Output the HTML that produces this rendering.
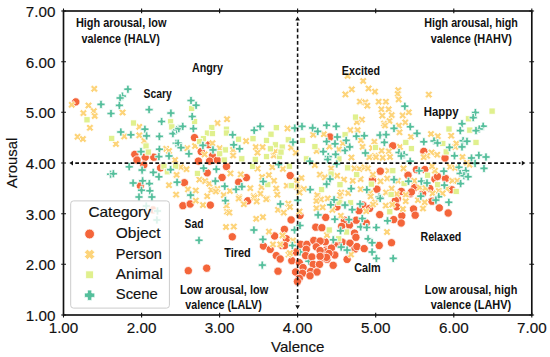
<!DOCTYPE html><html><head><meta charset="utf-8"><style>html,body{margin:0;padding:0;background:#fff;width:550px;height:357px;overflow:hidden}svg{display:block}text{font-family:"Liberation Sans",sans-serif}</style></head><body><svg width="550" height="357" viewBox="0 0 550 357"><rect width="550" height="357" fill="#fff"/><g stroke="#fff" stroke-width="0.8" stroke-linejoin="miter"><path d="M298.70,247.85H301.30V250.60H304.05V253.20H301.30V255.95H298.70V253.20H295.95V250.60H298.70Z" fill="#55bf9c"/><path d="M307.50,257.25H310.10V260.00H312.85V262.60H310.10V265.35H307.50V262.60H304.75V260.00H307.50Z" fill="#55bf9c"/><circle cx="75.8" cy="101.9" r="4.15" fill="#f4653a"/><circle cx="134.8" cy="154.4" r="4.15" fill="#f4653a"/><circle cx="145.2" cy="157.2" r="4.15" fill="#f4653a"/><circle cx="153.8" cy="157.2" r="4.15" fill="#f4653a"/><circle cx="137.0" cy="160.0" r="4.15" fill="#f4653a"/><circle cx="194.5" cy="137.6" r="4.15" fill="#f4653a"/><circle cx="209.0" cy="144.8" r="4.15" fill="#f4653a"/><circle cx="201.2" cy="151.6" r="4.15" fill="#f4653a"/><circle cx="212.4" cy="156.0" r="4.15" fill="#f4653a"/><circle cx="198.4" cy="161.1" r="4.15" fill="#f4653a"/><circle cx="209.6" cy="161.1" r="4.15" fill="#f4653a"/><circle cx="217.4" cy="160.0" r="4.15" fill="#f4653a"/><circle cx="330.0" cy="137.0" r="4.15" fill="#f4653a"/><circle cx="392.8" cy="145.8" r="4.15" fill="#f4653a"/><circle cx="423.8" cy="151.4" r="4.15" fill="#f4653a"/><circle cx="445.0" cy="158.0" r="4.15" fill="#f4653a"/><circle cx="143.8" cy="165.1" r="4.15" fill="#f4653a"/><circle cx="160.6" cy="167.9" r="4.15" fill="#f4653a"/><circle cx="140.4" cy="185.8" r="4.15" fill="#f4653a"/><circle cx="184.4" cy="182.7" r="4.15" fill="#f4653a"/><circle cx="207.2" cy="172.8" r="4.15" fill="#f4653a"/><circle cx="222.1" cy="177.5" r="4.15" fill="#f4653a"/><circle cx="226.5" cy="166.5" r="4.15" fill="#f4653a"/><circle cx="238.7" cy="182.2" r="4.15" fill="#f4653a"/><circle cx="246.4" cy="177.6" r="4.15" fill="#f4653a"/><circle cx="290.2" cy="175.6" r="4.15" fill="#f4653a"/><circle cx="372.4" cy="180.2" r="4.15" fill="#f4653a"/><circle cx="380.3" cy="171.2" r="4.15" fill="#f4653a"/><circle cx="376.9" cy="189.2" r="4.15" fill="#f4653a"/><circle cx="408.0" cy="175.2" r="4.15" fill="#f4653a"/><circle cx="401.3" cy="191.4" r="4.15" fill="#f4653a"/><circle cx="410.2" cy="193.7" r="4.15" fill="#f4653a"/><circle cx="397.3" cy="198.7" r="4.15" fill="#f4653a"/><circle cx="416.4" cy="169.6" r="4.15" fill="#f4653a"/><circle cx="424.8" cy="169.6" r="4.15" fill="#f4653a"/><circle cx="434.9" cy="179.1" r="4.15" fill="#f4653a"/><circle cx="437.5" cy="176.5" r="4.15" fill="#f4653a"/><circle cx="445.5" cy="178.5" r="4.15" fill="#f4653a"/><circle cx="429.8" cy="188.6" r="4.15" fill="#f4653a"/><circle cx="414.7" cy="187.5" r="4.15" fill="#f4653a"/><circle cx="411.4" cy="192.0" r="4.15" fill="#f4653a"/><circle cx="451.7" cy="189.7" r="4.15" fill="#f4653a"/><circle cx="422.6" cy="193.6" r="4.15" fill="#f4653a"/><circle cx="153.0" cy="209.9" r="4.15" fill="#f4653a"/><circle cx="182.9" cy="205.7" r="4.15" fill="#f4653a"/><circle cx="190.2" cy="204.0" r="4.15" fill="#f4653a"/><circle cx="210.3" cy="205.1" r="4.15" fill="#f4653a"/><circle cx="247.8" cy="200.8" r="4.15" fill="#f4653a"/><circle cx="300.0" cy="215.4" r="4.15" fill="#f4653a"/><circle cx="291.1" cy="219.9" r="4.15" fill="#f4653a"/><circle cx="284.4" cy="229.4" r="4.15" fill="#f4653a"/><circle cx="337.0" cy="206.9" r="4.15" fill="#f4653a"/><circle cx="325.7" cy="217.4" r="4.15" fill="#f4653a"/><circle cx="315.8" cy="227.2" r="4.15" fill="#f4653a"/><circle cx="321.9" cy="227.7" r="4.15" fill="#f4653a"/><circle cx="362.9" cy="205.1" r="4.15" fill="#f4653a"/><circle cx="369.6" cy="208.4" r="4.15" fill="#f4653a"/><circle cx="379.7" cy="214.6" r="4.15" fill="#f4653a"/><circle cx="395.4" cy="200.6" r="4.15" fill="#f4653a"/><circle cx="359.0" cy="210.7" r="4.15" fill="#f4653a"/><circle cx="344.4" cy="220.2" r="4.15" fill="#f4653a"/><circle cx="356.2" cy="220.2" r="4.15" fill="#f4653a"/><circle cx="366.2" cy="223.0" r="4.15" fill="#f4653a"/><circle cx="393.7" cy="219.6" r="4.15" fill="#f4653a"/><circle cx="349.4" cy="225.2" r="4.15" fill="#f4653a"/><circle cx="341.6" cy="226.4" r="4.15" fill="#f4653a"/><circle cx="354.5" cy="233.1" r="4.15" fill="#f4653a"/><circle cx="432.0" cy="201.2" r="4.15" fill="#f4653a"/><circle cx="396.7" cy="206.8" r="4.15" fill="#f4653a"/><circle cx="413.5" cy="209.0" r="4.15" fill="#f4653a"/><circle cx="439.3" cy="207.9" r="4.15" fill="#f4653a"/><circle cx="415.2" cy="215.2" r="4.15" fill="#f4653a"/><circle cx="401.8" cy="215.8" r="4.15" fill="#f4653a"/><circle cx="401.2" cy="223.0" r="4.15" fill="#f4653a"/><circle cx="448.2" cy="213.0" r="4.15" fill="#f4653a"/><circle cx="232.3" cy="236.8" r="4.15" fill="#f4653a"/><circle cx="206.7" cy="268.2" r="4.15" fill="#f4653a"/><circle cx="188.3" cy="270.7" r="4.15" fill="#f4653a"/><circle cx="274.6" cy="236.0" r="4.15" fill="#f4653a"/><circle cx="286.4" cy="238.8" r="4.15" fill="#f4653a"/><circle cx="263.4" cy="246.1" r="4.15" fill="#f4653a"/><circle cx="270.2" cy="249.4" r="4.15" fill="#f4653a"/><circle cx="281.9" cy="245.5" r="4.15" fill="#f4653a"/><circle cx="284.7" cy="245.5" r="4.15" fill="#f4653a"/><circle cx="276.3" cy="255.6" r="4.15" fill="#f4653a"/><circle cx="280.2" cy="259.0" r="4.15" fill="#f4653a"/><circle cx="325.3" cy="241.8" r="4.15" fill="#f4653a"/><circle cx="326.1" cy="250.2" r="4.15" fill="#f4653a"/><circle cx="327.0" cy="251.7" r="4.15" fill="#f4653a"/><circle cx="323.2" cy="258.4" r="4.15" fill="#f4653a"/><circle cx="327.0" cy="259.2" r="4.15" fill="#f4653a"/><circle cx="355.9" cy="237.3" r="4.15" fill="#f4653a"/><circle cx="335.3" cy="243.7" r="4.15" fill="#f4653a"/><circle cx="342.2" cy="242.2" r="4.15" fill="#f4653a"/><circle cx="350.0" cy="243.2" r="4.15" fill="#f4653a"/><circle cx="331.4" cy="248.1" r="4.15" fill="#f4653a"/><circle cx="354.9" cy="249.1" r="4.15" fill="#f4653a"/><circle cx="356.9" cy="246.6" r="4.15" fill="#f4653a"/><circle cx="364.2" cy="248.6" r="4.15" fill="#f4653a"/><circle cx="334.8" cy="255.0" r="4.15" fill="#f4653a"/><circle cx="328.9" cy="253.5" r="4.15" fill="#f4653a"/><circle cx="347.1" cy="259.4" r="4.15" fill="#f4653a"/><circle cx="326.5" cy="257.4" r="4.15" fill="#f4653a"/><circle cx="333.2" cy="265.3" r="4.15" fill="#f4653a"/><circle cx="278.0" cy="271.2" r="4.15" fill="#f4653a"/><circle cx="391.5" cy="242.7" r="4.15" fill="#f4653a"/><circle cx="379.2" cy="245.5" r="4.15" fill="#f4653a"/><circle cx="300.6" cy="244.3" r="4.15" fill="#f4653a"/><circle cx="306.9" cy="244.3" r="4.15" fill="#f4653a"/><circle cx="313.8" cy="240.5" r="4.15" fill="#f4653a"/><circle cx="320.1" cy="241.1" r="4.15" fill="#f4653a"/><circle cx="306.3" cy="249.3" r="4.15" fill="#f4653a"/><circle cx="316.3" cy="246.8" r="4.15" fill="#f4653a"/><circle cx="320.1" cy="250.6" r="4.15" fill="#f4653a"/><circle cx="305.6" cy="255.6" r="4.15" fill="#f4653a"/><circle cx="311.9" cy="256.9" r="4.15" fill="#f4653a"/><circle cx="320.1" cy="256.3" r="4.15" fill="#f4653a"/><circle cx="291.8" cy="260.7" r="4.15" fill="#f4653a"/><circle cx="299.3" cy="262.6" r="4.15" fill="#f4653a"/><circle cx="313.2" cy="264.4" r="4.15" fill="#f4653a"/><circle cx="319.5" cy="264.4" r="4.15" fill="#f4653a"/><circle cx="303.1" cy="267.6" r="4.15" fill="#f4653a"/><circle cx="295.6" cy="272.0" r="4.15" fill="#f4653a"/><circle cx="302.5" cy="273.3" r="4.15" fill="#f4653a"/><circle cx="310.7" cy="271.4" r="4.15" fill="#f4653a"/><circle cx="317.0" cy="272.0" r="4.15" fill="#f4653a"/><circle cx="310.0" cy="275.8" r="4.15" fill="#f4653a"/><circle cx="299.3" cy="278.3" r="4.15" fill="#f4653a"/><circle cx="297.4" cy="281.5" r="4.15" fill="#f4653a"/><circle cx="295.5" cy="252.0" r="4.15" fill="#f4653a"/><path d="M96.15,85.00L98.10,86.95L96.25,88.80L98.10,90.65L96.15,92.60L94.30,90.75L92.45,92.60L90.50,90.65L92.35,88.80L90.50,86.95L92.45,85.00L94.30,86.85Z" fill="#fdd47a"/><path d="M73.55,101.00L75.50,102.95L73.65,104.80L75.50,106.65L73.55,108.60L71.70,106.75L69.85,108.60L67.90,106.65L69.75,104.80L67.90,102.95L69.85,101.00L71.70,102.85Z" fill="#fdd47a"/><path d="M90.35,101.70L92.30,103.65L90.45,105.50L92.30,107.35L90.35,109.30L88.50,107.45L86.65,109.30L84.70,107.35L86.55,105.50L84.70,103.65L86.65,101.70L88.50,103.55Z" fill="#fdd47a"/><path d="M85.25,109.30L87.20,111.25L85.35,113.10L87.20,114.95L85.25,116.90L83.40,115.05L81.55,116.90L79.60,114.95L81.45,113.10L79.60,111.25L81.55,109.30L83.40,111.15Z" fill="#fdd47a"/><path d="M95.65,107.30L97.60,109.25L95.75,111.10L97.60,112.95L95.65,114.90L93.80,113.05L91.95,114.90L90.00,112.95L91.85,111.10L90.00,109.25L91.95,107.30L93.80,109.15Z" fill="#fdd47a"/><path d="M96.55,112.20L98.50,114.15L96.65,116.00L98.50,117.85L96.55,119.80L94.70,117.95L92.85,119.80L90.90,117.85L92.75,116.00L90.90,114.15L92.85,112.20L94.70,114.05Z" fill="#fdd47a"/><path d="M124.45,108.70L126.40,110.65L124.55,112.50L126.40,114.35L124.45,116.30L122.60,114.45L120.75,116.30L118.80,114.35L120.65,112.50L118.80,110.65L120.75,108.70L122.60,110.55Z" fill="#fdd47a"/><path d="M219.35,119.30L221.30,121.25L219.45,123.10L221.30,124.95L219.35,126.90L217.50,125.05L215.65,126.90L213.70,124.95L215.55,123.10L213.70,121.25L215.65,119.30L217.50,121.15Z" fill="#fdd47a"/><path d="M228.85,115.40L230.80,117.35L228.95,119.20L230.80,121.05L228.85,123.00L227.00,121.15L225.15,123.00L223.20,121.05L225.05,119.20L223.20,117.35L225.15,115.40L227.00,117.25Z" fill="#fdd47a"/><path d="M349.45,72.10L351.40,74.05L349.55,75.90L351.40,77.75L349.45,79.70L347.60,77.85L345.75,79.70L343.80,77.75L345.65,75.90L343.80,74.05L345.75,72.10L347.60,73.95Z" fill="#fdd47a"/><path d="M365.05,77.20L367.00,79.15L365.15,81.00L367.00,82.85L365.05,84.80L363.20,82.95L361.35,84.80L359.40,82.85L361.25,81.00L359.40,79.15L361.35,77.20L363.20,79.05Z" fill="#fdd47a"/><path d="M353.65,85.60L355.60,87.55L353.75,89.40L355.60,91.25L353.65,93.20L351.80,91.35L349.95,93.20L348.00,91.25L349.85,89.40L348.00,87.55L349.95,85.60L351.80,87.45Z" fill="#fdd47a"/><path d="M347.25,90.60L349.20,92.55L347.35,94.40L349.20,96.25L347.25,98.20L345.40,96.35L343.55,98.20L341.60,96.25L343.45,94.40L341.60,92.55L343.55,90.60L345.40,92.45Z" fill="#fdd47a"/><path d="M370.45,84.70L372.40,86.65L370.55,88.50L372.40,90.35L370.45,92.30L368.60,90.45L366.75,92.30L364.80,90.35L366.65,88.50L364.80,86.65L366.75,84.70L368.60,86.55Z" fill="#fdd47a"/><path d="M376.85,87.80L378.80,89.75L376.95,91.60L378.80,93.45L376.85,95.40L375.00,93.55L373.15,95.40L371.20,93.45L373.05,91.60L371.20,89.75L373.15,87.80L375.00,89.65Z" fill="#fdd47a"/><path d="M361.75,97.80L363.70,99.75L361.85,101.60L363.70,103.45L361.75,105.40L359.90,103.55L358.05,105.40L356.10,103.45L357.95,101.60L356.10,99.75L358.05,97.80L359.90,99.65Z" fill="#fdd47a"/><path d="M367.15,98.50L369.10,100.45L367.25,102.30L369.10,104.15L367.15,106.10L365.30,104.25L363.45,106.10L361.50,104.15L363.35,102.30L361.50,100.45L363.45,98.50L365.30,100.35Z" fill="#fdd47a"/><path d="M369.15,101.90L371.10,103.85L369.25,105.70L371.10,107.55L369.15,109.50L367.30,107.65L365.45,109.50L363.50,107.55L365.35,105.70L363.50,103.85L365.45,101.90L367.30,103.75Z" fill="#fdd47a"/><path d="M363.75,115.80L365.70,117.75L363.85,119.60L365.70,121.45L363.75,123.40L361.90,121.55L360.05,123.40L358.10,121.45L359.95,119.60L358.10,117.75L360.05,115.80L361.90,117.65Z" fill="#fdd47a"/><path d="M358.65,118.30L360.60,120.25L358.75,122.10L360.60,123.95L358.65,125.90L356.80,124.05L354.95,125.90L353.00,123.95L354.85,122.10L353.00,120.25L354.95,118.30L356.80,120.15Z" fill="#fdd47a"/><path d="M380.55,97.90L382.50,99.85L380.65,101.70L382.50,103.55L380.55,105.50L378.70,103.65L376.85,105.50L374.90,103.55L376.75,101.70L374.90,99.85L376.85,97.90L378.70,99.75Z" fill="#fdd47a"/><path d="M387.75,97.90L389.70,99.85L387.85,101.70L389.70,103.55L387.75,105.50L385.90,103.65L384.05,105.50L382.10,103.55L383.95,101.70L382.10,99.85L384.05,97.90L385.90,99.75Z" fill="#fdd47a"/><path d="M383.25,105.50L385.20,107.45L383.35,109.30L385.20,111.15L383.25,113.10L381.40,111.25L379.55,113.10L377.60,111.15L379.45,109.30L377.60,107.45L379.55,105.50L381.40,107.35Z" fill="#fdd47a"/><path d="M390.45,105.50L392.40,107.45L390.55,109.30L392.40,111.15L390.45,113.10L388.60,111.25L386.75,113.10L384.80,111.15L386.65,109.30L384.80,107.45L386.75,105.50L388.60,107.35Z" fill="#fdd47a"/><path d="M384.15,111.80L386.10,113.75L384.25,115.60L386.10,117.45L384.15,119.40L382.30,117.55L380.45,119.40L378.50,117.45L380.35,115.60L378.50,113.75L380.45,111.80L382.30,113.65Z" fill="#fdd47a"/><path d="M393.55,111.30L395.50,113.25L393.65,115.10L395.50,116.95L393.55,118.90L391.70,117.05L389.85,118.90L387.90,116.95L389.75,115.10L387.90,113.25L389.85,111.30L391.70,113.15Z" fill="#fdd47a"/><path d="M391.35,117.20L393.30,119.15L391.45,121.00L393.30,122.85L391.35,124.80L389.50,122.95L387.65,124.80L385.70,122.85L387.55,121.00L385.70,119.15L387.65,117.20L389.50,119.05Z" fill="#fdd47a"/><path d="M385.95,119.80L387.90,121.75L386.05,123.60L387.90,125.45L385.95,127.40L384.10,125.55L382.25,127.40L380.30,125.45L382.15,123.60L380.30,121.75L382.25,119.80L384.10,121.65Z" fill="#fdd47a"/><path d="M400.15,86.40L402.10,88.35L400.25,90.20L402.10,92.05L400.15,94.00L398.30,92.15L396.45,94.00L394.50,92.05L396.35,90.20L394.50,88.35L396.45,86.40L398.30,88.25Z" fill="#fdd47a"/><path d="M399.55,90.20L401.50,92.15L399.65,94.00L401.50,95.85L399.55,97.80L397.70,95.95L395.85,97.80L393.90,95.85L395.75,94.00L393.90,92.15L395.85,90.20L397.70,92.05Z" fill="#fdd47a"/><path d="M400.55,95.60L402.50,97.55L400.65,99.40L402.50,101.25L400.55,103.20L398.70,101.35L396.85,103.20L394.90,101.25L396.75,99.40L394.90,97.55L396.85,95.60L398.70,97.45Z" fill="#fdd47a"/><path d="M404.55,111.60L406.50,113.55L404.65,115.40L406.50,117.25L404.55,119.20L402.70,117.35L400.85,119.20L398.90,117.25L400.75,115.40L398.90,113.55L400.85,111.60L402.70,113.45Z" fill="#fdd47a"/><path d="M410.65,108.50L412.60,110.45L410.75,112.30L412.60,114.15L410.65,116.10L408.80,114.25L406.95,116.10L405.00,114.15L406.85,112.30L405.00,110.45L406.95,108.50L408.80,110.35Z" fill="#fdd47a"/><path d="M407.05,118.60L409.00,120.55L407.15,122.40L409.00,124.25L407.05,126.20L405.20,124.35L403.35,126.20L401.40,124.25L403.25,122.40L401.40,120.55L403.35,118.60L405.20,120.45Z" fill="#fdd47a"/><path d="M430.65,90.80L432.60,92.75L430.75,94.60L432.60,96.45L430.65,98.40L428.80,96.55L426.95,98.40L425.00,96.45L426.85,94.60L425.00,92.75L426.95,90.80L428.80,92.65Z" fill="#fdd47a"/><path d="M91.75,124.00L93.70,125.95L91.85,127.80L93.70,129.65L91.75,131.60L89.90,129.75L88.05,131.60L86.10,129.65L87.95,127.80L86.10,125.95L88.05,124.00L89.90,125.85Z" fill="#fdd47a"/><path d="M79.45,133.00L81.40,134.95L79.55,136.80L81.40,138.65L79.45,140.60L77.60,138.75L75.75,140.60L73.80,138.65L75.65,136.80L73.80,134.95L75.75,133.00L77.60,134.85Z" fill="#fdd47a"/><path d="M84.75,135.20L86.70,137.15L84.85,139.00L86.70,140.85L84.75,142.80L82.90,140.95L81.05,142.80L79.10,140.85L80.95,139.00L79.10,137.15L81.05,135.20L82.90,137.05Z" fill="#fdd47a"/><path d="M117.75,140.20L119.70,142.15L117.85,144.00L119.70,145.85L117.75,147.80L115.90,145.95L114.05,147.80L112.10,145.85L113.95,144.00L112.10,142.15L114.05,140.20L115.90,142.05Z" fill="#fdd47a"/><path d="M141.15,123.10L143.10,125.05L141.25,126.90L143.10,128.75L141.15,130.70L139.30,128.85L137.45,130.70L135.50,128.75L137.35,126.90L135.50,125.05L137.45,123.10L139.30,124.95Z" fill="#fdd47a"/><path d="M126.05,132.60L128.00,134.55L126.15,136.40L128.00,138.25L126.05,140.20L124.20,138.35L122.35,140.20L120.40,138.25L122.25,136.40L120.40,134.55L122.35,132.60L124.20,134.45Z" fill="#fdd47a"/><path d="M141.15,131.50L143.10,133.45L141.25,135.30L143.10,137.15L141.15,139.10L139.30,137.25L137.45,139.10L135.50,137.15L137.35,135.30L135.50,133.45L137.45,131.50L139.30,133.35Z" fill="#fdd47a"/><path d="M146.15,137.10L148.10,139.05L146.25,140.90L148.10,142.75L146.15,144.70L144.30,142.85L142.45,144.70L140.50,142.75L142.35,140.90L140.50,139.05L142.45,137.10L144.30,138.95Z" fill="#fdd47a"/><path d="M168.05,145.00L170.00,146.95L168.15,148.80L170.00,150.65L168.05,152.60L166.20,150.75L164.35,152.60L162.40,150.65L164.25,148.80L162.40,146.95L164.35,145.00L166.20,146.85Z" fill="#fdd47a"/><path d="M170.85,147.20L172.80,149.15L170.95,151.00L172.80,152.85L170.85,154.80L169.00,152.95L167.15,154.80L165.20,152.85L167.05,151.00L165.20,149.15L167.15,147.20L169.00,149.05Z" fill="#fdd47a"/><path d="M176.95,156.20L178.90,158.15L177.05,160.00L178.90,161.85L176.95,163.80L175.10,161.95L173.25,163.80L171.30,161.85L173.15,160.00L171.30,158.15L173.25,156.20L175.10,158.05Z" fill="#fdd47a"/><path d="M189.05,144.40L191.00,146.35L189.15,148.20L191.00,150.05L189.05,152.00L187.20,150.15L185.35,152.00L183.40,150.05L185.25,148.20L183.40,146.35L185.35,144.40L187.20,146.25Z" fill="#fdd47a"/><path d="M196.85,142.20L198.80,144.15L196.95,146.00L198.80,147.85L196.85,149.80L195.00,147.95L193.15,149.80L191.20,147.85L193.05,146.00L191.20,144.15L193.15,142.20L195.00,144.05Z" fill="#fdd47a"/><path d="M214.25,139.40L216.20,141.35L214.35,143.20L216.20,145.05L214.25,147.00L212.40,145.15L210.55,147.00L208.60,145.05L210.45,143.20L208.60,141.35L210.55,139.40L212.40,141.25Z" fill="#fdd47a"/><path d="M221.55,144.40L223.50,146.35L221.65,148.20L223.50,150.05L221.55,152.00L219.70,150.15L217.85,152.00L215.90,150.05L217.75,148.20L215.90,146.35L217.85,144.40L219.70,146.25Z" fill="#fdd47a"/><path d="M234.95,146.10L236.90,148.05L235.05,149.90L236.90,151.75L234.95,153.70L233.10,151.85L231.25,153.70L229.30,151.75L231.15,149.90L229.30,148.05L231.25,146.10L233.10,147.95Z" fill="#fdd47a"/><path d="M206.45,150.60L208.40,152.55L206.55,154.40L208.40,156.25L206.45,158.20L204.60,156.35L202.75,158.20L200.80,156.25L202.65,154.40L200.80,152.55L202.75,150.60L204.60,152.45Z" fill="#fdd47a"/><path d="M234.95,151.70L236.90,153.65L235.05,155.50L236.90,157.35L234.95,159.30L233.10,157.45L231.25,159.30L229.30,157.35L231.15,155.50L229.30,153.65L231.25,151.70L233.10,153.55Z" fill="#fdd47a"/><path d="M289.35,124.60L291.30,126.55L289.45,128.40L291.30,130.25L289.35,132.20L287.50,130.35L285.65,132.20L283.70,130.25L285.55,128.40L283.70,126.55L285.65,124.60L287.50,126.45Z" fill="#fdd47a"/><path d="M247.95,137.30L249.90,139.25L248.05,141.10L249.90,142.95L247.95,144.90L246.10,143.05L244.25,144.90L242.30,142.95L244.15,141.10L242.30,139.25L244.25,137.30L246.10,139.15Z" fill="#fdd47a"/><path d="M257.65,143.30L259.60,145.25L257.75,147.10L259.60,148.95L257.65,150.90L255.80,149.05L253.95,150.90L252.00,148.95L253.85,147.10L252.00,145.25L253.95,143.30L255.80,145.15Z" fill="#fdd47a"/><path d="M264.45,143.30L266.40,145.25L264.55,147.10L266.40,148.95L264.45,150.90L262.60,149.05L260.75,150.90L258.80,148.95L260.65,147.10L258.80,145.25L260.75,143.30L262.60,145.15Z" fill="#fdd47a"/><path d="M259.35,148.90L261.30,150.85L259.45,152.70L261.30,154.55L259.35,156.50L257.50,154.65L255.65,156.50L253.70,154.55L255.55,152.70L253.70,150.85L255.65,148.90L257.50,150.75Z" fill="#fdd47a"/><path d="M275.65,151.70L277.60,153.65L275.75,155.50L277.60,157.35L275.65,159.30L273.80,157.45L271.95,159.30L270.00,157.35L271.85,155.50L270.00,153.65L271.95,151.70L273.80,153.55Z" fill="#fdd47a"/><path d="M277.25,147.70L279.20,149.65L277.35,151.50L279.20,153.35L277.25,155.30L275.40,153.45L273.55,155.30L271.60,153.35L273.45,151.50L271.60,149.65L273.55,147.70L275.40,149.55Z" fill="#fdd47a"/><path d="M292.95,143.80L294.90,145.75L293.05,147.60L294.90,149.45L292.95,151.40L291.10,149.55L289.25,151.40L287.30,149.45L289.15,147.60L287.30,145.75L289.25,143.80L291.10,145.65Z" fill="#fdd47a"/><path d="M315.05,131.00L317.00,132.95L315.15,134.80L317.00,136.65L315.05,138.60L313.20,136.75L311.35,138.60L309.40,136.65L311.25,134.80L309.40,132.95L311.35,131.00L313.20,132.85Z" fill="#fdd47a"/><path d="M325.65,130.40L327.60,132.35L325.75,134.20L327.60,136.05L325.65,138.00L323.80,136.15L321.95,138.00L320.00,136.05L321.85,134.20L320.00,132.35L321.95,130.40L323.80,132.25Z" fill="#fdd47a"/><path d="M344.75,139.40L346.70,141.35L344.85,143.20L346.70,145.05L344.75,147.00L342.90,145.15L341.05,147.00L339.10,145.05L340.95,143.20L339.10,141.35L341.05,139.40L342.90,141.25Z" fill="#fdd47a"/><path d="M297.65,148.90L299.60,150.85L297.75,152.70L299.60,154.55L297.65,156.50L295.80,154.65L293.95,156.50L292.00,154.55L293.85,152.70L292.00,150.85L293.95,148.90L295.80,150.75Z" fill="#fdd47a"/><path d="M318.45,147.20L320.40,149.15L318.55,151.00L320.40,152.85L318.45,154.80L316.60,152.95L314.75,154.80L312.80,152.85L314.65,151.00L312.80,149.15L314.75,147.20L316.60,149.05Z" fill="#fdd47a"/><path d="M331.25,142.80L333.20,144.75L331.35,146.60L333.20,148.45L331.25,150.40L329.40,148.55L327.55,150.40L325.60,148.45L327.45,146.60L325.60,144.75L327.55,142.80L329.40,144.65Z" fill="#fdd47a"/><path d="M340.85,145.60L342.80,147.55L340.95,149.40L342.80,151.25L340.85,153.20L339.00,151.35L337.15,153.20L335.20,151.25L337.05,149.40L335.20,147.55L337.15,145.60L339.00,147.45Z" fill="#fdd47a"/><path d="M352.15,126.30L354.10,128.25L352.25,130.10L354.10,131.95L352.15,133.90L350.30,132.05L348.45,133.90L346.50,131.95L348.35,130.10L346.50,128.25L348.45,126.30L350.30,128.15Z" fill="#fdd47a"/><path d="M359.45,126.30L361.40,128.25L359.55,130.10L361.40,131.95L359.45,133.90L357.60,132.05L355.75,133.90L353.80,131.95L355.65,130.10L353.80,128.25L355.75,126.30L357.60,128.15Z" fill="#fdd47a"/><path d="M362.75,136.40L364.70,138.35L362.85,140.20L364.70,142.05L362.75,144.00L360.90,142.15L359.05,144.00L357.10,142.05L358.95,140.20L357.10,138.35L359.05,136.40L360.90,138.25Z" fill="#fdd47a"/><path d="M364.45,143.10L366.40,145.05L364.55,146.90L366.40,148.75L364.45,150.70L362.60,148.85L360.75,150.70L358.80,148.75L360.65,146.90L358.80,145.05L360.75,143.10L362.60,144.95Z" fill="#fdd47a"/><path d="M353.25,153.70L355.20,155.65L353.35,157.50L355.20,159.35L353.25,161.30L351.40,159.45L349.55,161.30L347.60,159.35L349.45,157.50L347.60,155.65L349.55,153.70L351.40,155.55Z" fill="#fdd47a"/><path d="M373.95,144.20L375.90,146.15L374.05,148.00L375.90,149.85L373.95,151.80L372.10,149.95L370.25,151.80L368.30,149.85L370.15,148.00L368.30,146.15L370.25,144.20L372.10,146.05Z" fill="#fdd47a"/><path d="M376.25,138.00L378.20,139.95L376.35,141.80L378.20,143.65L376.25,145.60L374.40,143.75L372.55,145.60L370.60,143.65L372.45,141.80L370.60,139.95L372.55,138.00L374.40,139.85Z" fill="#fdd47a"/><path d="M376.75,152.00L378.70,153.95L376.85,155.80L378.70,157.65L376.75,159.60L374.90,157.75L373.05,159.60L371.10,157.65L372.95,155.80L371.10,153.95L373.05,152.00L374.90,153.85Z" fill="#fdd47a"/><path d="M383.45,147.00L385.40,148.95L383.55,150.80L385.40,152.65L383.45,154.60L381.60,152.75L379.75,154.60L377.80,152.65L379.65,150.80L377.80,148.95L379.75,147.00L381.60,148.85Z" fill="#fdd47a"/><path d="M390.75,147.60L392.70,149.55L390.85,151.40L392.70,153.25L390.75,155.20L388.90,153.35L387.05,155.20L385.10,153.25L386.95,151.40L385.10,149.55L387.05,147.60L388.90,149.45Z" fill="#fdd47a"/><path d="M386.85,121.70L388.80,123.65L386.95,125.50L388.80,127.35L386.85,129.30L385.00,127.45L383.15,129.30L381.20,127.35L383.05,125.50L381.20,123.65L383.15,121.70L385.00,123.55Z" fill="#fdd47a"/><path d="M400.85,121.80L402.80,123.75L400.95,125.60L402.80,127.45L400.85,129.40L399.00,127.55L397.15,129.40L395.20,127.45L397.05,125.60L395.20,123.75L397.15,121.80L399.00,123.65Z" fill="#fdd47a"/><path d="M401.35,128.50L403.30,130.45L401.45,132.30L403.30,134.15L401.35,136.10L399.50,134.25L397.65,136.10L395.70,134.15L397.55,132.30L395.70,130.45L397.65,128.50L399.50,130.35Z" fill="#fdd47a"/><path d="M401.85,143.10L403.80,145.05L401.95,146.90L403.80,148.75L401.85,150.70L400.00,148.85L398.15,150.70L396.20,148.75L398.05,146.90L396.20,145.05L398.15,143.10L400.00,144.95Z" fill="#fdd47a"/><path d="M391.85,153.20L393.80,155.15L391.95,157.00L393.80,158.85L391.85,160.80L390.00,158.95L388.15,160.80L386.20,158.85L388.05,157.00L386.20,155.15L388.15,153.20L390.00,155.05Z" fill="#fdd47a"/><path d="M412.75,133.00L414.70,134.95L412.85,136.80L414.70,138.65L412.75,140.60L410.90,138.75L409.05,140.60L407.10,138.65L408.95,136.80L407.10,134.95L409.05,133.00L410.90,134.85Z" fill="#fdd47a"/><path d="M432.85,130.20L434.80,132.15L432.95,134.00L434.80,135.85L432.85,137.80L431.00,135.95L429.15,137.80L427.20,135.85L429.05,134.00L427.20,132.15L429.15,130.20L431.00,132.05Z" fill="#fdd47a"/><path d="M439.65,132.40L441.60,134.35L439.75,136.20L441.60,138.05L439.65,140.00L437.80,138.15L435.95,140.00L434.00,138.05L435.85,136.20L434.00,134.35L435.95,132.40L437.80,134.25Z" fill="#fdd47a"/><path d="M453.05,131.90L455.00,133.85L453.15,135.70L455.00,137.55L453.05,139.50L451.20,137.65L449.35,139.50L447.40,137.55L449.25,135.70L447.40,133.85L449.35,131.90L451.20,133.75Z" fill="#fdd47a"/><path d="M433.45,148.70L435.40,150.65L433.55,152.50L435.40,154.35L433.45,156.30L431.60,154.45L429.75,156.30L427.80,154.35L429.65,152.50L427.80,150.65L429.75,148.70L431.60,150.55Z" fill="#fdd47a"/><path d="M439.05,150.90L441.00,152.85L439.15,154.70L441.00,156.55L439.05,158.50L437.20,156.65L435.35,158.50L433.40,156.55L435.25,154.70L433.40,152.85L435.35,150.90L437.20,152.75Z" fill="#fdd47a"/><path d="M428.95,152.00L430.90,153.95L429.05,155.80L430.90,157.65L428.95,159.60L427.10,157.75L425.25,159.60L423.30,157.65L425.15,155.80L423.30,153.95L425.25,152.00L427.10,153.85Z" fill="#fdd47a"/><path d="M457.05,143.10L459.00,145.05L457.15,146.90L459.00,148.75L457.05,150.70L455.20,148.85L453.35,150.70L451.40,148.75L453.25,146.90L451.40,145.05L453.35,143.10L455.20,144.95Z" fill="#fdd47a"/><path d="M458.25,139.70L460.20,141.65L458.35,143.50L460.20,145.35L458.25,147.30L456.40,145.45L454.55,147.30L452.60,145.35L454.45,143.50L452.60,141.65L454.55,139.70L456.40,141.55Z" fill="#fdd47a"/><path d="M464.35,153.20L466.30,155.15L464.45,157.00L466.30,158.85L464.35,160.80L462.50,158.95L460.65,160.80L458.70,158.85L460.55,157.00L458.70,155.15L460.65,153.20L462.50,155.05Z" fill="#fdd47a"/><path d="M178.05,171.40L180.00,173.35L178.15,175.20L180.00,177.05L178.05,179.00L176.20,177.15L174.35,179.00L172.40,177.05L174.25,175.20L172.40,173.35L174.35,171.40L176.20,173.25Z" fill="#fdd47a"/><path d="M170.85,181.40L172.80,183.35L170.95,185.20L172.80,187.05L170.85,189.00L169.00,187.15L167.15,189.00L165.20,187.05L167.05,185.20L165.20,183.35L167.15,181.40L169.00,183.25Z" fill="#fdd47a"/><path d="M182.65,163.30L184.60,165.25L182.75,167.10L184.60,168.95L182.65,170.90L180.80,169.05L178.95,170.90L177.00,168.95L178.85,167.10L177.00,165.25L178.95,163.30L180.80,165.15Z" fill="#fdd47a"/><path d="M188.35,165.40L190.30,167.35L188.45,169.20L190.30,171.05L188.35,173.00L186.50,171.15L184.65,173.00L182.70,171.05L184.55,169.20L182.70,167.35L184.65,165.40L186.50,167.25Z" fill="#fdd47a"/><path d="M178.45,171.10L180.40,173.05L178.55,174.90L180.40,176.75L178.45,178.70L176.60,176.85L174.75,178.70L172.80,176.75L174.65,174.90L172.80,173.05L174.75,171.10L176.60,172.95Z" fill="#fdd47a"/><path d="M201.25,175.80L203.20,177.75L201.35,179.60L203.20,181.45L201.25,183.40L199.40,181.55L197.55,183.40L195.60,181.45L197.45,179.60L195.60,177.75L197.55,175.80L199.40,177.65Z" fill="#fdd47a"/><path d="M206.95,177.30L208.90,179.25L207.05,181.10L208.90,182.95L206.95,184.90L205.10,183.05L203.25,184.90L201.30,182.95L203.15,181.10L201.30,179.25L203.25,177.30L205.10,179.15Z" fill="#fdd47a"/><path d="M211.15,179.90L213.10,181.85L211.25,183.70L213.10,185.55L211.15,187.50L209.30,185.65L207.45,187.50L205.50,185.55L207.35,183.70L205.50,181.85L207.45,179.90L209.30,181.75Z" fill="#fdd47a"/><path d="M189.85,185.60L191.80,187.55L189.95,189.40L191.80,191.25L189.85,193.20L188.00,191.35L186.15,193.20L184.20,191.25L186.05,189.40L184.20,187.55L186.15,185.60L188.00,187.45Z" fill="#fdd47a"/><path d="M197.65,186.70L199.60,188.65L197.75,190.50L199.60,192.35L197.65,194.30L195.80,192.45L193.95,194.30L192.00,192.35L193.85,190.50L192.00,188.65L193.95,186.70L195.80,188.55Z" fill="#fdd47a"/><path d="M177.95,190.80L179.90,192.75L178.05,194.60L179.90,196.45L177.95,198.40L176.10,196.55L174.25,198.40L172.30,196.45L174.15,194.60L172.30,192.75L174.25,190.80L176.10,192.65Z" fill="#fdd47a"/><path d="M209.05,192.40L211.00,194.35L209.15,196.20L211.00,198.05L209.05,200.00L207.20,198.15L205.35,200.00L203.40,198.05L205.25,196.20L203.40,194.35L205.35,192.40L207.20,194.25Z" fill="#fdd47a"/><path d="M213.15,186.20L215.10,188.15L213.25,190.00L215.10,191.85L213.15,193.80L211.30,191.95L209.45,193.80L207.50,191.85L209.35,190.00L207.50,188.15L209.45,186.20L211.30,188.05Z" fill="#fdd47a"/><path d="M232.25,169.60L234.20,171.55L232.35,173.40L234.20,175.25L232.25,177.20L230.40,175.35L228.55,177.20L226.60,175.25L228.45,173.40L226.60,171.55L228.55,169.60L230.40,171.45Z" fill="#fdd47a"/><path d="M242.65,170.60L244.60,172.55L242.75,174.40L244.60,176.25L242.65,178.20L240.80,176.35L238.95,178.20L237.00,176.25L238.85,174.40L237.00,172.55L238.95,170.60L240.80,172.45Z" fill="#fdd47a"/><path d="M219.25,185.10L221.20,187.05L219.35,188.90L221.20,190.75L219.25,192.70L217.40,190.85L215.55,192.70L213.60,190.75L215.45,188.90L213.60,187.05L215.55,185.10L217.40,186.95Z" fill="#fdd47a"/><path d="M225.55,191.30L227.50,193.25L225.65,195.10L227.50,196.95L225.55,198.90L223.70,197.05L221.85,198.90L219.90,196.95L221.75,195.10L219.90,193.25L221.85,191.30L223.70,193.15Z" fill="#fdd47a"/><path d="M231.75,187.20L233.70,189.15L231.85,191.00L233.70,192.85L231.75,194.80L229.90,192.95L228.05,194.80L226.10,192.85L227.95,191.00L226.10,189.15L228.05,187.20L229.90,189.05Z" fill="#fdd47a"/><path d="M241.05,193.40L243.00,195.35L241.15,197.20L243.00,199.05L241.05,201.00L239.20,199.15L237.35,201.00L235.40,199.05L237.25,197.20L235.40,195.35L237.35,193.40L239.20,195.25Z" fill="#fdd47a"/><path d="M259.45,164.80L261.40,166.75L259.55,168.60L261.40,170.45L259.45,172.40L257.60,170.55L255.75,172.40L253.80,170.45L255.65,168.60L253.80,166.75L255.75,164.80L257.60,166.65Z" fill="#fdd47a"/><path d="M274.15,163.40L276.10,165.35L274.25,167.20L276.10,169.05L274.15,171.00L272.30,169.15L270.45,171.00L268.50,169.05L270.35,167.20L268.50,165.35L270.45,163.40L272.30,165.25Z" fill="#fdd47a"/><path d="M284.75,165.10L286.70,167.05L284.85,168.90L286.70,170.75L284.75,172.70L282.90,170.85L281.05,172.70L279.10,170.75L280.95,168.90L279.10,167.05L281.05,165.10L282.90,166.95Z" fill="#fdd47a"/><path d="M263.95,173.20L265.90,175.15L264.05,177.00L265.90,178.85L263.95,180.80L262.10,178.95L260.25,180.80L258.30,178.85L260.15,177.00L258.30,175.15L260.25,173.20L262.10,175.05Z" fill="#fdd47a"/><path d="M270.75,171.30L272.70,173.25L270.85,175.10L272.70,176.95L270.75,178.90L268.90,177.05L267.05,178.90L265.10,176.95L266.95,175.10L265.10,173.25L267.05,171.30L268.90,173.15Z" fill="#fdd47a"/><path d="M275.85,176.90L277.80,178.85L275.95,180.70L277.80,182.55L275.85,184.50L274.00,182.65L272.15,184.50L270.20,182.55L272.05,180.70L270.20,178.85L272.15,176.90L274.00,178.75Z" fill="#fdd47a"/><path d="M252.15,184.40L254.10,186.35L252.25,188.20L254.10,190.05L252.15,192.00L250.30,190.15L248.45,192.00L246.50,190.05L248.35,188.20L246.50,186.35L248.45,184.40L250.30,186.25Z" fill="#fdd47a"/><path d="M263.35,183.30L265.30,185.25L263.45,187.10L265.30,188.95L263.35,190.90L261.50,189.05L259.65,190.90L257.70,188.95L259.55,187.10L257.70,185.25L259.65,183.30L261.50,185.15Z" fill="#fdd47a"/><path d="M278.05,184.70L280.00,186.65L278.15,188.50L280.00,190.35L278.05,192.30L276.20,190.45L274.35,192.30L272.40,190.35L274.25,188.50L272.40,186.65L274.35,184.70L276.20,186.55Z" fill="#fdd47a"/><path d="M288.65,181.90L290.60,183.85L288.75,185.70L290.60,187.55L288.65,189.50L286.80,187.65L284.95,189.50L283.00,187.55L284.85,185.70L283.00,183.85L284.95,181.90L286.80,183.75Z" fill="#fdd47a"/><path d="M298.25,176.90L300.20,178.85L298.35,180.70L300.20,182.55L298.25,184.50L296.40,182.65L294.55,184.50L292.60,182.55L294.45,180.70L292.60,178.85L294.55,176.90L296.40,178.75Z" fill="#fdd47a"/><path d="M301.35,184.20L303.30,186.15L301.45,188.00L303.30,189.85L301.35,191.80L299.50,189.95L297.65,191.80L295.70,189.85L297.55,188.00L295.70,186.15L297.65,184.20L299.50,186.05Z" fill="#fdd47a"/><path d="M262.25,190.00L264.20,191.95L262.35,193.80L264.20,195.65L262.25,197.60L260.40,195.75L258.55,197.60L256.60,195.65L258.45,193.80L256.60,191.95L258.55,190.00L260.40,191.85Z" fill="#fdd47a"/><path d="M279.15,190.90L281.10,192.85L279.25,194.70L281.10,196.55L279.15,198.50L277.30,196.65L275.45,198.50L273.50,196.55L275.35,194.70L273.50,192.85L275.45,190.90L277.30,192.75Z" fill="#fdd47a"/><path d="M255.55,192.30L257.50,194.25L255.65,196.10L257.50,197.95L255.55,199.90L253.70,198.05L251.85,199.90L249.90,197.95L251.75,196.10L249.90,194.25L251.85,192.30L253.70,194.15Z" fill="#fdd47a"/><path d="M269.05,194.80L271.00,196.75L269.15,198.60L271.00,200.45L269.05,202.40L267.20,200.55L265.35,202.40L263.40,200.45L265.25,198.60L263.40,196.75L265.35,194.80L267.20,196.65Z" fill="#fdd47a"/><path d="M316.65,161.30L318.60,163.25L316.75,165.10L318.60,166.95L316.65,168.90L314.80,167.05L312.95,168.90L311.00,166.95L312.85,165.10L311.00,163.25L312.95,161.30L314.80,163.15Z" fill="#fdd47a"/><path d="M332.95,164.60L334.90,166.55L333.05,168.40L334.90,170.25L332.95,172.20L331.10,170.35L329.25,172.20L327.30,170.25L329.15,168.40L327.30,166.55L329.25,164.60L331.10,166.45Z" fill="#fdd47a"/><path d="M321.75,170.80L323.70,172.75L321.85,174.60L323.70,176.45L321.75,178.40L319.90,176.55L318.05,178.40L316.10,176.45L317.95,174.60L316.10,172.75L318.05,170.80L319.90,172.65Z" fill="#fdd47a"/><path d="M326.75,173.60L328.70,175.55L326.85,177.40L328.70,179.25L326.75,181.20L324.90,179.35L323.05,181.20L321.10,179.25L322.95,177.40L321.10,175.55L323.05,173.60L324.90,175.45Z" fill="#fdd47a"/><path d="M339.05,171.90L341.00,173.85L339.15,175.70L341.00,177.55L339.05,179.50L337.20,177.65L335.35,179.50L333.40,177.55L335.25,175.70L333.40,173.85L335.35,171.90L337.20,173.75Z" fill="#fdd47a"/><path d="M345.85,175.80L347.80,177.75L345.95,179.60L347.80,181.45L345.85,183.40L344.00,181.55L342.15,183.40L340.20,181.45L342.05,179.60L340.20,177.75L342.15,175.80L344.00,177.65Z" fill="#fdd47a"/><path d="M303.35,174.20L305.30,176.15L303.45,178.00L305.30,179.85L303.35,181.80L301.50,179.95L299.65,181.80L297.70,179.85L299.55,178.00L297.70,176.15L299.65,174.20L301.50,176.05Z" fill="#fdd47a"/><path d="M298.35,183.20L300.30,185.15L298.45,187.00L300.30,188.85L298.35,190.80L296.50,188.95L294.65,190.80L292.70,188.85L294.55,187.00L292.70,185.15L294.65,183.20L296.50,185.05Z" fill="#fdd47a"/><path d="M305.85,185.20L307.80,187.15L305.95,189.00L307.80,190.85L305.85,192.80L304.00,190.95L302.15,192.80L300.20,190.85L302.05,189.00L300.20,187.15L302.15,185.20L304.00,187.05Z" fill="#fdd47a"/><path d="M301.45,188.70L303.40,190.65L301.55,192.50L303.40,194.35L301.45,196.30L299.60,194.45L297.75,196.30L295.80,194.35L297.65,192.50L295.80,190.65L297.75,188.70L299.60,190.55Z" fill="#fdd47a"/><path d="M319.35,193.10L321.30,195.05L319.45,196.90L321.30,198.75L319.35,200.70L317.50,198.85L315.65,200.70L313.70,198.75L315.55,196.90L313.70,195.05L315.65,193.10L317.50,194.95Z" fill="#fdd47a"/><path d="M343.05,188.70L345.00,190.65L343.15,192.50L345.00,194.35L343.05,196.30L341.20,194.45L339.35,196.30L337.40,194.35L339.25,192.50L337.40,190.65L339.35,188.70L341.20,190.55Z" fill="#fdd47a"/><path d="M371.15,153.40L373.10,155.35L371.25,157.20L373.10,159.05L371.15,161.00L369.30,159.15L367.45,161.00L365.50,159.05L367.35,157.20L365.50,155.35L367.45,153.40L369.30,155.25Z" fill="#fdd47a"/><path d="M377.85,153.40L379.80,155.35L377.95,157.20L379.80,159.05L377.85,161.00L376.00,159.15L374.15,161.00L372.20,159.05L374.05,157.20L372.20,155.35L374.15,153.40L376.00,155.25Z" fill="#fdd47a"/><path d="M384.55,154.00L386.50,155.95L384.65,157.80L386.50,159.65L384.55,161.60L382.70,159.75L380.85,161.60L378.90,159.65L380.75,157.80L378.90,155.95L380.85,154.00L382.70,155.85Z" fill="#fdd47a"/><path d="M356.25,164.60L358.20,166.55L356.35,168.40L358.20,170.25L356.25,172.20L354.40,170.35L352.55,172.20L350.60,170.25L352.45,168.40L350.60,166.55L352.55,164.60L354.40,166.45Z" fill="#fdd47a"/><path d="M361.35,165.20L363.30,167.15L361.45,169.00L363.30,170.85L361.35,172.80L359.50,170.95L357.65,172.80L355.70,170.85L357.55,169.00L355.70,167.15L357.65,165.20L359.50,167.05Z" fill="#fdd47a"/><path d="M366.35,163.50L368.30,165.45L366.45,167.30L368.30,169.15L366.35,171.10L364.50,169.25L362.65,171.10L360.70,169.15L362.55,167.30L360.70,165.45L362.65,163.50L364.50,165.35Z" fill="#fdd47a"/><path d="M369.75,164.60L371.70,166.55L369.85,168.40L371.70,170.25L369.75,172.20L367.90,170.35L366.05,172.20L364.10,170.25L365.95,168.40L364.10,166.55L366.05,164.60L367.90,166.45Z" fill="#fdd47a"/><path d="M362.45,175.30L364.40,177.25L362.55,179.10L364.40,180.95L362.45,182.90L360.60,181.05L358.75,182.90L356.80,180.95L358.65,179.10L356.80,177.25L358.75,175.30L360.60,177.15Z" fill="#fdd47a"/><path d="M354.55,177.00L356.50,178.95L354.65,180.80L356.50,182.65L354.55,184.60L352.70,182.75L350.85,184.60L348.90,182.65L350.75,180.80L348.90,178.95L350.85,177.00L352.70,178.85Z" fill="#fdd47a"/><path d="M374.75,170.80L376.70,172.75L374.85,174.60L376.70,176.45L374.75,178.40L372.90,176.55L371.05,178.40L369.10,176.45L370.95,174.60L369.10,172.75L371.05,170.80L372.90,172.65Z" fill="#fdd47a"/><path d="M362.45,185.40L364.40,187.35L362.55,189.20L364.40,191.05L362.45,193.00L360.60,191.15L358.75,193.00L356.80,191.05L358.65,189.20L356.80,187.35L358.75,185.40L360.60,187.25Z" fill="#fdd47a"/><path d="M350.05,189.30L352.00,191.25L350.15,193.10L352.00,194.95L350.05,196.90L348.20,195.05L346.35,196.90L344.40,194.95L346.25,193.10L344.40,191.25L346.35,189.30L348.20,191.15Z" fill="#fdd47a"/><path d="M371.95,189.30L373.90,191.25L372.05,193.10L373.90,194.95L371.95,196.90L370.10,195.05L368.25,196.90L366.30,194.95L368.15,193.10L366.30,191.25L368.25,189.30L370.10,191.15Z" fill="#fdd47a"/><path d="M390.15,166.90L392.10,168.85L390.25,170.70L392.10,172.55L390.15,174.50L388.30,172.65L386.45,174.50L384.50,172.55L386.35,170.70L384.50,168.85L386.45,166.90L388.30,168.75Z" fill="#fdd47a"/><path d="M405.35,164.60L407.30,166.55L405.45,168.40L407.30,170.25L405.35,172.20L403.50,170.35L401.65,172.20L399.70,170.25L401.55,168.40L399.70,166.55L401.65,164.60L403.50,166.45Z" fill="#fdd47a"/><path d="M389.05,174.70L391.00,176.65L389.15,178.50L391.00,180.35L389.05,182.30L387.20,180.45L385.35,182.30L383.40,180.35L385.25,178.50L383.40,176.65L385.35,174.70L387.20,176.55Z" fill="#fdd47a"/><path d="M382.35,177.50L384.30,179.45L382.45,181.30L384.30,183.15L382.35,185.10L380.50,183.25L378.65,185.10L376.70,183.15L378.55,181.30L376.70,179.45L378.65,177.50L380.50,179.35Z" fill="#fdd47a"/><path d="M399.75,177.00L401.70,178.95L399.85,180.80L401.70,182.65L399.75,184.60L397.90,182.75L396.05,184.60L394.10,182.65L395.95,180.80L394.10,178.95L396.05,177.00L397.90,178.85Z" fill="#fdd47a"/><path d="M393.55,184.80L395.50,186.75L393.65,188.60L395.50,190.45L393.55,192.40L391.70,190.55L389.85,192.40L387.90,190.45L389.75,188.60L387.90,186.75L389.85,184.80L391.70,186.65Z" fill="#fdd47a"/><path d="M407.55,191.00L409.50,192.95L407.65,194.80L409.50,196.65L407.55,198.60L405.70,196.75L403.85,198.60L401.90,196.65L403.75,194.80L401.90,192.95L403.85,191.00L405.70,192.85Z" fill="#fdd47a"/><path d="M387.95,188.70L389.90,190.65L388.05,192.50L389.90,194.35L387.95,196.30L386.10,194.45L384.25,196.30L382.30,194.35L384.15,192.50L382.30,190.65L384.25,188.70L386.10,190.55Z" fill="#fdd47a"/><path d="M425.55,153.40L427.50,155.35L425.65,157.20L427.50,159.05L425.55,161.00L423.70,159.15L421.85,161.00L419.90,159.05L421.75,157.20L419.90,155.35L421.85,153.40L423.70,155.25Z" fill="#fdd47a"/><path d="M436.75,166.90L438.70,168.85L436.85,170.70L438.70,172.55L436.75,174.50L434.90,172.65L433.05,174.50L431.10,172.55L432.95,170.70L431.10,168.85L433.05,166.90L434.90,168.75Z" fill="#fdd47a"/><path d="M433.95,162.40L435.90,164.35L434.05,166.20L435.90,168.05L433.95,170.00L432.10,168.15L430.25,170.00L428.30,168.05L430.15,166.20L428.30,164.35L430.25,162.40L432.10,164.25Z" fill="#fdd47a"/><path d="M451.85,163.00L453.80,164.95L451.95,166.80L453.80,168.65L451.85,170.60L450.00,168.75L448.15,170.60L446.20,168.65L448.05,166.80L446.20,164.95L448.15,163.00L450.00,164.85Z" fill="#fdd47a"/><path d="M456.85,164.10L458.80,166.05L456.95,167.90L458.80,169.75L456.85,171.70L455.00,169.85L453.15,171.70L451.20,169.75L453.05,167.90L451.20,166.05L453.15,164.10L455.00,165.95Z" fill="#fdd47a"/><path d="M416.05,177.00L418.00,178.95L416.15,180.80L418.00,182.65L416.05,184.60L414.20,182.75L412.35,184.60L410.40,182.65L412.25,180.80L410.40,178.95L412.35,177.00L414.20,178.85Z" fill="#fdd47a"/><path d="M454.05,177.00L456.00,178.95L454.15,180.80L456.00,182.65L454.05,184.60L452.20,182.75L450.35,184.60L448.40,182.65L450.25,180.80L448.40,178.95L450.35,177.00L452.20,178.85Z" fill="#fdd47a"/><path d="M459.15,177.00L461.10,178.95L459.25,180.80L461.10,182.65L459.15,184.60L457.30,182.75L455.45,184.60L453.50,182.65L455.35,180.80L453.50,178.95L455.45,177.00L457.30,178.85Z" fill="#fdd47a"/><path d="M421.65,183.70L423.60,185.65L421.75,187.50L423.60,189.35L421.65,191.30L419.80,189.45L417.95,191.30L416.00,189.35L417.85,187.50L416.00,185.65L417.95,183.70L419.80,185.55Z" fill="#fdd47a"/><path d="M427.25,184.20L429.20,186.15L427.35,188.00L429.20,189.85L427.25,191.80L425.40,189.95L423.55,191.80L421.60,189.85L423.45,188.00L421.60,186.15L423.55,184.20L425.40,186.05Z" fill="#fdd47a"/><path d="M440.65,187.00L442.60,188.95L440.75,190.80L442.60,192.65L440.65,194.60L438.80,192.75L436.95,194.60L435.00,192.65L436.85,190.80L435.00,188.95L436.95,187.00L438.80,188.85Z" fill="#fdd47a"/><path d="M448.45,184.80L450.40,186.75L448.55,188.60L450.40,190.45L448.45,192.40L446.60,190.55L444.75,192.40L442.80,190.45L444.65,188.60L442.80,186.75L444.75,184.80L446.60,186.65Z" fill="#fdd47a"/><path d="M468.65,158.90L470.60,160.85L468.75,162.70L470.60,164.55L468.65,166.50L466.80,164.65L464.95,166.50L463.00,164.55L464.85,162.70L463.00,160.85L464.95,158.90L466.80,160.75Z" fill="#fdd47a"/><path d="M471.35,161.00L473.30,162.95L471.45,164.80L473.30,166.65L471.35,168.60L469.50,166.75L467.65,168.60L465.70,166.65L467.55,164.80L465.70,162.95L467.65,161.00L469.50,162.85Z" fill="#fdd47a"/><path d="M197.65,196.80L199.60,198.75L197.75,200.60L199.60,202.45L197.65,204.40L195.80,202.55L193.95,204.40L192.00,202.45L193.85,200.60L192.00,198.75L193.95,196.80L195.80,198.65Z" fill="#fdd47a"/><path d="M204.85,201.30L206.80,203.25L204.95,205.10L206.80,206.95L204.85,208.90L203.00,207.05L201.15,208.90L199.20,206.95L201.05,205.10L199.20,203.25L201.15,201.30L203.00,203.15Z" fill="#fdd47a"/><path d="M217.75,187.70L219.70,189.65L217.85,191.50L219.70,193.35L217.75,195.30L215.90,193.45L214.05,195.30L212.10,193.35L213.95,191.50L212.10,189.65L214.05,187.70L215.90,189.55Z" fill="#fdd47a"/><path d="M228.35,201.90L230.30,203.85L228.45,205.70L230.30,207.55L228.35,209.50L226.50,207.65L224.65,209.50L222.70,207.55L224.55,205.70L222.70,203.85L224.65,201.90L226.50,203.75Z" fill="#fdd47a"/><path d="M228.95,208.00L230.90,209.95L229.05,211.80L230.90,213.65L228.95,215.60L227.10,213.75L225.25,215.60L223.30,213.65L225.15,211.80L223.30,209.95L225.25,208.00L227.10,209.85Z" fill="#fdd47a"/><path d="M227.85,223.20L229.80,225.15L227.95,227.00L229.80,228.85L227.85,230.80L226.00,228.95L224.15,230.80L222.20,228.85L224.05,227.00L222.20,225.15L224.15,223.20L226.00,225.05Z" fill="#fdd47a"/><path d="M240.65,194.80L242.60,196.75L240.75,198.60L242.60,200.45L240.65,202.40L238.80,200.55L236.95,202.40L235.00,200.45L236.85,198.60L235.00,196.75L236.95,194.80L238.80,196.65Z" fill="#fdd47a"/><path d="M245.65,200.40L247.60,202.35L245.75,204.20L247.60,206.05L245.65,208.00L243.80,206.15L241.95,208.00L240.00,206.05L241.85,204.20L240.00,202.35L241.95,200.40L243.80,202.25Z" fill="#fdd47a"/><path d="M256.35,193.70L258.30,195.65L256.45,197.50L258.30,199.35L256.35,201.30L254.50,199.45L252.65,201.30L250.70,199.35L252.55,197.50L250.70,195.65L252.65,193.70L254.50,195.55Z" fill="#fdd47a"/><path d="M258.55,197.60L260.50,199.55L258.65,201.40L260.50,203.25L258.55,205.20L256.70,203.35L254.85,205.20L252.90,203.25L254.75,201.40L252.90,199.55L254.85,197.60L256.70,199.45Z" fill="#fdd47a"/><path d="M268.05,195.40L270.00,197.35L268.15,199.20L270.00,201.05L268.05,203.00L266.20,201.15L264.35,203.00L262.40,201.05L264.25,199.20L262.40,197.35L264.35,195.40L266.20,197.25Z" fill="#fdd47a"/><path d="M279.85,206.00L281.80,207.95L279.95,209.80L281.80,211.65L279.85,213.60L278.00,211.75L276.15,213.60L274.20,211.65L276.05,209.80L274.20,207.95L276.15,206.00L278.00,207.85Z" fill="#fdd47a"/><path d="M231.15,208.80L233.10,210.75L231.25,212.60L233.10,214.45L231.15,216.40L229.30,214.55L227.45,216.40L225.50,214.45L227.35,212.60L225.50,210.75L227.45,208.80L229.30,210.65Z" fill="#fdd47a"/><path d="M258.05,215.00L260.00,216.95L258.15,218.80L260.00,220.65L258.05,222.60L256.20,220.75L254.35,222.60L252.40,220.65L254.25,218.80L252.40,216.95L254.35,215.00L256.20,216.85Z" fill="#fdd47a"/><path d="M264.75,213.30L266.70,215.25L264.85,217.10L266.70,218.95L264.75,220.90L262.90,219.05L261.05,220.90L259.10,218.95L260.95,217.10L259.10,215.25L261.05,213.30L262.90,215.15Z" fill="#fdd47a"/><path d="M235.65,222.80L237.60,224.75L235.75,226.60L237.60,228.45L235.65,230.40L233.80,228.55L231.95,230.40L230.00,228.45L231.85,226.60L230.00,224.75L231.95,222.80L233.80,224.65Z" fill="#fdd47a"/><path d="M270.85,227.80L272.80,229.75L270.95,231.60L272.80,233.45L270.85,235.40L269.00,233.55L267.15,235.40L265.20,233.45L267.05,231.60L265.20,229.75L267.15,227.80L269.00,229.65Z" fill="#fdd47a"/><path d="M290.15,199.80L292.10,201.75L290.25,203.60L292.10,205.45L290.15,207.40L288.30,205.55L286.45,207.40L284.50,205.45L286.35,203.60L284.50,201.75L286.45,199.80L288.30,201.65Z" fill="#fdd47a"/><path d="M291.85,203.20L293.80,205.15L291.95,207.00L293.80,208.85L291.85,210.80L290.00,208.95L288.15,210.80L286.20,208.85L288.05,207.00L286.20,205.15L288.15,203.20L290.00,205.05Z" fill="#fdd47a"/><path d="M285.65,208.80L287.60,210.75L285.75,212.60L287.60,214.45L285.65,216.40L283.80,214.55L281.95,216.40L280.00,214.45L281.85,212.60L280.00,210.75L281.95,208.80L283.80,210.65Z" fill="#fdd47a"/><path d="M301.35,207.70L303.30,209.65L301.45,211.50L303.30,213.35L301.35,215.30L299.50,213.45L297.65,215.30L295.70,213.35L297.55,211.50L295.70,209.65L297.65,207.70L299.50,209.55Z" fill="#fdd47a"/><path d="M319.15,191.30L321.10,193.25L319.25,195.10L321.10,196.95L319.15,198.90L317.30,197.05L315.45,198.90L313.50,196.95L315.35,195.10L313.50,193.25L315.45,191.30L317.30,193.15Z" fill="#fdd47a"/><path d="M322.85,195.60L324.80,197.55L322.95,199.40L324.80,201.25L322.85,203.20L321.00,201.35L319.15,203.20L317.20,201.25L319.05,199.40L317.20,197.55L319.15,195.60L321.00,197.45Z" fill="#fdd47a"/><path d="M318.25,197.20L320.20,199.15L318.35,201.00L320.20,202.85L318.25,204.80L316.40,202.95L314.55,204.80L312.60,202.85L314.45,201.00L312.60,199.15L314.55,197.20L316.40,199.05Z" fill="#fdd47a"/><path d="M329.65,194.70L331.60,196.65L329.75,198.50L331.60,200.35L329.65,202.30L327.80,200.45L325.95,202.30L324.00,200.35L325.85,198.50L324.00,196.65L325.95,194.70L327.80,196.55Z" fill="#fdd47a"/><path d="M341.85,191.30L343.80,193.25L341.95,195.10L343.80,196.95L341.85,198.90L340.00,197.05L338.15,198.90L336.20,196.95L338.05,195.10L336.20,193.25L338.15,191.30L340.00,193.15Z" fill="#fdd47a"/><path d="M341.85,195.70L343.80,197.65L341.95,199.50L343.80,201.35L341.85,203.30L340.00,201.45L338.15,203.30L336.20,201.35L338.05,199.50L336.20,197.65L338.15,195.70L340.00,197.55Z" fill="#fdd47a"/><path d="M318.25,204.40L320.20,206.35L318.35,208.20L320.20,210.05L318.25,212.00L316.40,210.15L314.55,212.00L312.60,210.05L314.45,208.20L312.60,206.35L314.55,204.40L316.40,206.25Z" fill="#fdd47a"/><path d="M324.55,203.50L326.50,205.45L324.65,207.30L326.50,209.15L324.55,211.10L322.70,209.25L320.85,211.10L318.90,209.15L320.75,207.30L318.90,205.45L320.85,203.50L322.70,205.35Z" fill="#fdd47a"/><path d="M334.25,206.10L336.20,208.05L334.35,209.90L336.20,211.75L334.25,213.70L332.40,211.85L330.55,213.70L328.60,211.75L330.45,209.90L328.60,208.05L330.55,206.10L332.40,207.95Z" fill="#fdd47a"/><path d="M342.65,212.00L344.60,213.95L342.75,215.80L344.60,217.65L342.65,219.60L340.80,217.75L338.95,219.60L337.00,217.65L338.85,215.80L337.00,213.95L338.95,212.00L340.80,213.85Z" fill="#fdd47a"/><path d="M372.55,192.70L374.50,194.65L372.65,196.50L374.50,198.35L372.55,200.30L370.70,198.45L368.85,200.30L366.90,198.35L368.75,196.50L366.90,194.65L368.85,192.70L370.70,194.55Z" fill="#fdd47a"/><path d="M377.05,198.50L379.00,200.45L377.15,202.30L379.00,204.15L377.05,206.10L375.20,204.25L373.35,206.10L371.40,204.15L373.25,202.30L371.40,200.45L373.35,198.50L375.20,200.35Z" fill="#fdd47a"/><path d="M374.85,200.70L376.80,202.65L374.95,204.50L376.80,206.35L374.85,208.30L373.00,206.45L371.15,208.30L369.20,206.35L371.05,204.50L369.20,202.65L371.15,200.70L373.00,202.55Z" fill="#fdd47a"/><path d="M387.65,201.80L389.60,203.75L387.75,205.60L389.60,207.45L387.65,209.40L385.80,207.55L383.95,209.40L382.00,207.45L383.85,205.60L382.00,203.75L383.95,201.80L385.80,203.65Z" fill="#fdd47a"/><path d="M368.05,207.40L370.00,209.35L368.15,211.20L370.00,213.05L368.05,215.00L366.20,213.15L364.35,215.00L362.40,213.05L364.25,211.20L362.40,209.35L364.35,207.40L366.20,209.25Z" fill="#fdd47a"/><path d="M388.85,228.20L390.80,230.15L388.95,232.00L390.80,233.85L388.85,235.80L387.00,233.95L385.15,235.80L383.20,233.85L385.05,232.00L383.20,230.15L385.15,228.20L387.00,230.05Z" fill="#fdd47a"/><path d="M398.55,190.10L400.50,192.05L398.65,193.90L400.50,195.75L398.55,197.70L396.70,195.85L394.85,197.70L392.90,195.75L394.75,193.90L392.90,192.05L394.85,190.10L396.70,191.95Z" fill="#fdd47a"/><path d="M407.55,197.40L409.50,199.35L407.65,201.20L409.50,203.05L407.55,205.00L405.70,203.15L403.85,205.00L401.90,203.05L403.75,201.20L401.90,199.35L403.85,197.40L405.70,199.25Z" fill="#fdd47a"/><path d="M419.85,196.30L421.80,198.25L419.95,200.10L421.80,201.95L419.85,203.90L418.00,202.05L416.15,203.90L414.20,201.95L416.05,200.10L414.20,198.25L416.15,196.30L418.00,198.15Z" fill="#fdd47a"/><path d="M426.55,198.50L428.50,200.45L426.65,202.30L428.50,204.15L426.55,206.10L424.70,204.25L422.85,206.10L420.90,204.15L422.75,202.30L420.90,200.45L422.85,198.50L424.70,200.35Z" fill="#fdd47a"/><path d="M434.45,189.60L436.40,191.55L434.55,193.40L436.40,195.25L434.45,197.20L432.60,195.35L430.75,197.20L428.80,195.25L430.65,193.40L428.80,191.55L430.75,189.60L432.60,191.45Z" fill="#fdd47a"/><path d="M444.45,189.60L446.40,191.55L444.55,193.40L446.40,195.25L444.45,197.20L442.60,195.35L440.75,197.20L438.80,195.25L440.65,193.40L438.80,191.55L440.75,189.60L442.60,191.45Z" fill="#fdd47a"/><path d="M394.05,200.80L396.00,202.75L394.15,204.60L396.00,206.45L394.05,208.40L392.20,206.55L390.35,208.40L388.40,206.45L390.25,204.60L388.40,202.75L390.35,200.80L392.20,202.65Z" fill="#fdd47a"/><path d="M404.75,205.20L406.70,207.15L404.85,209.00L406.70,210.85L404.75,212.80L402.90,210.95L401.05,212.80L399.10,210.85L400.95,209.00L399.10,207.15L401.05,205.20L402.90,207.05Z" fill="#fdd47a"/><path d="M424.85,204.70L426.80,206.65L424.95,208.50L426.80,210.35L424.85,212.30L423.00,210.45L421.15,212.30L419.20,210.35L421.05,208.50L419.20,206.65L421.15,204.70L423.00,206.55Z" fill="#fdd47a"/><path d="M284.35,231.60L286.30,233.55L284.45,235.40L286.30,237.25L284.35,239.20L282.50,237.35L280.65,239.20L278.70,237.25L280.55,235.40L278.70,233.55L280.65,231.60L282.50,233.45Z" fill="#fdd47a"/><path d="M274.85,240.60L276.80,242.55L274.95,244.40L276.80,246.25L274.85,248.20L273.00,246.35L271.15,248.20L269.20,246.25L271.05,244.40L269.20,242.55L271.15,240.60L273.00,242.45Z" fill="#fdd47a"/><path d="M282.05,240.60L284.00,242.55L282.15,244.40L284.00,246.25L282.05,248.20L280.20,246.35L278.35,248.20L276.40,246.25L278.25,244.40L276.40,242.55L278.35,240.60L280.20,242.45Z" fill="#fdd47a"/><path d="M290.45,250.70L292.40,252.65L290.55,254.50L292.40,256.35L290.45,258.30L288.60,256.45L286.75,258.30L284.80,256.35L286.65,254.50L284.80,252.65L286.75,250.70L288.60,252.55Z" fill="#fdd47a"/><path d="M328.85,231.30L330.80,233.25L328.95,235.10L330.80,236.95L328.85,238.90L327.00,237.05L325.15,238.90L323.20,236.95L325.05,235.10L323.20,233.25L325.15,231.30L327.00,233.15Z" fill="#fdd47a"/><path d="M352.85,250.70L354.80,252.65L352.95,254.50L354.80,256.35L352.85,258.30L351.00,256.45L349.15,258.30L347.20,256.35L349.05,254.50L347.20,252.65L349.15,250.70L351.00,252.55Z" fill="#fdd47a"/><path d="M294.85,236.70L296.80,238.65L294.95,240.50L296.80,242.35L294.85,244.30L293.00,242.45L291.15,244.30L289.20,242.35L291.05,240.50L289.20,238.65L291.15,236.70L293.00,238.55Z" fill="#fdd47a"/><path d="M291.75,249.30L293.70,251.25L291.85,253.10L293.70,254.95L291.75,256.90L289.90,255.05L288.05,256.90L286.10,254.95L287.95,253.10L286.10,251.25L288.05,249.30L289.90,251.15Z" fill="#fdd47a"/><rect x="83.9" y="116.7" width="6.2" height="6.2" fill="#e0f08e"/><rect x="130.4" y="119.9" width="6.2" height="6.2" fill="#e0f08e"/><rect x="188.6" y="105.4" width="6.2" height="6.2" fill="#e0f08e"/><rect x="191.5" y="118.4" width="6.2" height="6.2" fill="#e0f08e"/><rect x="167.5" y="118.7" width="6.2" height="6.2" fill="#e0f08e"/><rect x="352.4" y="114.0" width="6.2" height="6.2" fill="#e0f08e"/><rect x="489.0" y="108.0" width="6.2" height="6.2" fill="#e0f08e"/><rect x="465.3" y="115.7" width="6.2" height="6.2" fill="#e0f08e"/><rect x="108.6" y="135.3" width="6.2" height="6.2" fill="#e0f08e"/><rect x="142.9" y="142.9" width="6.2" height="6.2" fill="#e0f08e"/><rect x="145.1" y="149.0" width="6.2" height="6.2" fill="#e0f08e"/><rect x="168.7" y="123.8" width="6.2" height="6.2" fill="#e0f08e"/><rect x="208.7" y="124.4" width="6.2" height="6.2" fill="#e0f08e"/><rect x="204.3" y="130.0" width="6.2" height="6.2" fill="#e0f08e"/><rect x="209.3" y="130.5" width="6.2" height="6.2" fill="#e0f08e"/><rect x="223.3" y="126.1" width="6.2" height="6.2" fill="#e0f08e"/><rect x="223.3" y="129.9" width="6.2" height="6.2" fill="#e0f08e"/><rect x="200.3" y="135.6" width="6.2" height="6.2" fill="#e0f08e"/><rect x="196.4" y="138.4" width="6.2" height="6.2" fill="#e0f08e"/><rect x="222.2" y="146.8" width="6.2" height="6.2" fill="#e0f08e"/><rect x="216.6" y="150.7" width="6.2" height="6.2" fill="#e0f08e"/><rect x="221.1" y="156.9" width="6.2" height="6.2" fill="#e0f08e"/><rect x="273.2" y="124.6" width="6.2" height="6.2" fill="#e0f08e"/><rect x="267.9" y="131.1" width="6.2" height="6.2" fill="#e0f08e"/><rect x="235.4" y="136.1" width="6.2" height="6.2" fill="#e0f08e"/><rect x="249.9" y="135.6" width="6.2" height="6.2" fill="#e0f08e"/><rect x="263.4" y="137.3" width="6.2" height="6.2" fill="#e0f08e"/><rect x="272.3" y="141.7" width="6.2" height="6.2" fill="#e0f08e"/><rect x="279.1" y="144.0" width="6.2" height="6.2" fill="#e0f08e"/><rect x="285.2" y="136.7" width="6.2" height="6.2" fill="#e0f08e"/><rect x="267.3" y="145.7" width="6.2" height="6.2" fill="#e0f08e"/><rect x="263.4" y="153.5" width="6.2" height="6.2" fill="#e0f08e"/><rect x="276.3" y="153.5" width="6.2" height="6.2" fill="#e0f08e"/><rect x="277.9" y="149.0" width="6.2" height="6.2" fill="#e0f08e"/><rect x="238.7" y="155.7" width="6.2" height="6.2" fill="#e0f08e"/><rect x="252.2" y="156.3" width="6.2" height="6.2" fill="#e0f08e"/><rect x="342.0" y="131.7" width="6.2" height="6.2" fill="#e0f08e"/><rect x="299.5" y="137.3" width="6.2" height="6.2" fill="#e0f08e"/><rect x="311.8" y="143.5" width="6.2" height="6.2" fill="#e0f08e"/><rect x="372.4" y="144.3" width="6.2" height="6.2" fill="#e0f08e"/><rect x="402.7" y="139.3" width="6.2" height="6.2" fill="#e0f08e"/><rect x="445.9" y="125.9" width="6.2" height="6.2" fill="#e0f08e"/><rect x="439.7" y="140.4" width="6.2" height="6.2" fill="#e0f08e"/><rect x="408.3" y="145.5" width="6.2" height="6.2" fill="#e0f08e"/><rect x="443.1" y="148.8" width="6.2" height="6.2" fill="#e0f08e"/><rect x="466.7" y="127.0" width="6.2" height="6.2" fill="#e0f08e"/><rect x="472.9" y="139.3" width="6.2" height="6.2" fill="#e0f08e"/><rect x="160.8" y="163.1" width="6.2" height="6.2" fill="#e0f08e"/><rect x="164.2" y="168.7" width="6.2" height="6.2" fill="#e0f08e"/><rect x="172.6" y="163.1" width="6.2" height="6.2" fill="#e0f08e"/><rect x="194.3" y="170.3" width="6.2" height="6.2" fill="#e0f08e"/><rect x="249.5" y="163.3" width="6.2" height="6.2" fill="#e0f08e"/><rect x="286.2" y="163.1" width="6.2" height="6.2" fill="#e0f08e"/><rect x="264.7" y="181.5" width="6.2" height="6.2" fill="#e0f08e"/><rect x="288.2" y="182.6" width="6.2" height="6.2" fill="#e0f08e"/><rect x="303.3" y="155.8" width="6.2" height="6.2" fill="#e0f08e"/><rect x="335.8" y="155.8" width="6.2" height="6.2" fill="#e0f08e"/><rect x="344.2" y="165.3" width="6.2" height="6.2" fill="#e0f08e"/><rect x="328.0" y="170.9" width="6.2" height="6.2" fill="#e0f08e"/><rect x="336.9" y="181.6" width="6.2" height="6.2" fill="#e0f08e"/><rect x="318.5" y="186.5" width="6.2" height="6.2" fill="#e0f08e"/><rect x="344.6" y="164.8" width="6.2" height="6.2" fill="#e0f08e"/><rect x="353.6" y="171.5" width="6.2" height="6.2" fill="#e0f08e"/><rect x="368.2" y="181.0" width="6.2" height="6.2" fill="#e0f08e"/><rect x="389.7" y="167.6" width="6.2" height="6.2" fill="#e0f08e"/><rect x="401.0" y="180.5" width="6.2" height="6.2" fill="#e0f08e"/><rect x="424.5" y="172.1" width="6.2" height="6.2" fill="#e0f08e"/><rect x="434.6" y="181.6" width="6.2" height="6.2" fill="#e0f08e"/><rect x="453.1" y="188.3" width="6.2" height="6.2" fill="#e0f08e"/><rect x="336.0" y="199.2" width="6.2" height="6.2" fill="#e0f08e"/><rect x="326.1" y="226.9" width="6.2" height="6.2" fill="#e0f08e"/><rect x="347.5" y="199.7" width="6.2" height="6.2" fill="#e0f08e"/><rect x="386.7" y="208.7" width="6.2" height="6.2" fill="#e0f08e"/><rect x="343.5" y="228.9" width="6.2" height="6.2" fill="#e0f08e"/><rect x="388.0" y="191.4" width="6.2" height="6.2" fill="#e0f08e"/><rect x="335.6" y="235.7" width="6.2" height="6.2" fill="#e0f08e"/><path d="M99.70,100.35H102.30V103.10H105.05V105.70H102.30V108.45H99.70V105.70H96.95V103.10H99.70Z" fill="#55bf9c"/><path d="M109.70,109.45H112.30V112.20H115.05V114.80H112.30V117.55H109.70V114.80H106.95V112.20H109.70Z" fill="#55bf9c"/><path d="M126.60,85.15H129.20V87.90H131.95V90.50H129.20V93.25H126.60V90.50H123.85V87.90H126.60Z" fill="#55bf9c"/><path d="M121.10,92.05H123.70V94.80H126.45V97.40H123.70V100.15H121.10V97.40H118.35V94.80H121.10Z" fill="#55bf9c"/><path d="M118.80,93.95H121.40V96.70H124.15V99.30H121.40V102.05H118.80V99.30H116.05V96.70H118.80Z" fill="#55bf9c"/><path d="M118.10,101.35H120.70V104.10H123.45V106.70H120.70V109.45H118.10V106.70H115.35V104.10H118.10Z" fill="#55bf9c"/><path d="M147.80,105.55H150.40V108.30H153.15V110.90H150.40V113.65H147.80V110.90H145.05V108.30H147.80Z" fill="#55bf9c"/><path d="M169.60,109.05H172.20V111.80H174.95V114.40H172.20V117.15H169.60V114.40H166.85V111.80H169.60Z" fill="#55bf9c"/><path d="M160.30,117.45H162.90V120.20H165.65V122.80H162.90V125.55H160.30V122.80H157.55V120.20H160.30Z" fill="#55bf9c"/><path d="M189.70,96.45H192.30V99.20H195.05V101.80H192.30V104.55H189.70V101.80H186.95V99.20H189.70Z" fill="#55bf9c"/><path d="M194.80,101.25H197.40V104.00H200.15V106.60H197.40V109.35H194.80V106.60H192.05V104.00H194.80Z" fill="#55bf9c"/><path d="M190.90,112.45H193.50V115.20H196.25V117.80H193.50V120.55H190.90V117.80H188.15V115.20H190.90Z" fill="#55bf9c"/><path d="M403.50,102.15H406.10V104.90H408.85V107.50H406.10V110.25H403.50V107.50H400.75V104.90H403.50Z" fill="#55bf9c"/><path d="M474.10,108.45H476.70V111.20H479.45V113.80H476.70V116.55H474.10V113.80H471.35V111.20H474.10Z" fill="#55bf9c"/><path d="M471.90,113.55H474.50V116.30H477.25V118.90H474.50V121.65H471.90V118.90H469.15V116.30H471.90Z" fill="#55bf9c"/><path d="M460.70,119.65H463.30V122.40H466.05V125.00H463.30V127.75H460.70V125.00H457.95V122.40H460.70Z" fill="#55bf9c"/><path d="M143.60,125.15H146.20V127.90H148.95V130.50H146.20V133.25H143.60V130.50H140.85V127.90H143.60Z" fill="#55bf9c"/><path d="M119.50,127.95H122.10V130.70H124.85V133.30H122.10V136.05H119.50V133.30H116.75V130.70H119.50Z" fill="#55bf9c"/><path d="M129.60,130.75H132.20V133.50H134.95V136.10H132.20V138.85H129.60V136.10H126.85V133.50H129.60Z" fill="#55bf9c"/><path d="M145.30,131.85H147.90V134.60H150.65V137.20H147.90V139.95H145.30V137.20H142.55V134.60H145.30Z" fill="#55bf9c"/><path d="M158.10,132.35H160.70V135.10H163.45V137.70H160.70V140.45H158.10V137.70H155.35V135.10H158.10Z" fill="#55bf9c"/><path d="M171.60,129.55H174.20V132.30H176.95V134.90H174.20V137.65H171.60V134.90H168.85V132.30H171.60Z" fill="#55bf9c"/><path d="M175.50,125.65H178.10V128.40H180.85V131.00H178.10V133.75H175.50V131.00H172.75V128.40H175.50Z" fill="#55bf9c"/><path d="M174.90,139.15H177.50V141.90H180.25V144.50H177.50V147.25H174.90V144.50H172.15V141.90H174.90Z" fill="#55bf9c"/><path d="M158.10,145.25H160.70V148.00H163.45V150.60H160.70V153.35H158.10V150.60H155.35V148.00H158.10Z" fill="#55bf9c"/><path d="M157.60,152.55H160.20V155.30H162.95V157.90H160.20V160.65H157.60V157.90H154.85V155.30H157.60Z" fill="#55bf9c"/><path d="M167.70,151.95H170.30V154.70H173.05V157.30H170.30V160.05H167.70V157.30H164.95V154.70H167.70Z" fill="#55bf9c"/><path d="M139.70,147.55H142.30V150.30H145.05V152.90H142.30V155.65H139.70V152.90H136.95V150.30H139.70Z" fill="#55bf9c"/><path d="M177.50,124.55H180.10V127.30H182.85V129.90H180.10V132.65H177.50V129.90H174.75V127.30H177.50Z" fill="#55bf9c"/><path d="M181.40,122.35H184.00V125.10H186.75V127.70H184.00V130.45H181.40V127.70H178.65V125.10H181.40Z" fill="#55bf9c"/><path d="M192.10,124.55H194.70V127.30H197.45V129.90H194.70V132.65H192.10V129.90H189.35V127.30H192.10Z" fill="#55bf9c"/><path d="M231.30,130.75H233.90V133.50H236.65V136.10H233.90V138.85H231.30V136.10H228.55V133.50H231.30Z" fill="#55bf9c"/><path d="M176.90,139.15H179.50V141.90H182.25V144.50H179.50V147.25H176.90V144.50H174.15V141.90H176.90Z" fill="#55bf9c"/><path d="M179.70,143.55H182.30V146.30H185.05V148.90H182.30V151.65H179.70V148.90H176.95V146.30H179.70Z" fill="#55bf9c"/><path d="M201.60,141.35H204.20V144.10H206.95V146.70H204.20V149.45H201.60V146.70H198.85V144.10H201.60Z" fill="#55bf9c"/><path d="M211.70,145.85H214.30V148.60H217.05V151.20H214.30V153.95H211.70V151.20H208.95V148.60H211.70Z" fill="#55bf9c"/><path d="M232.40,140.75H235.00V143.50H237.75V146.10H235.00V148.85H232.40V146.10H229.65V143.50H232.40Z" fill="#55bf9c"/><path d="M187.60,149.75H190.20V152.50H192.95V155.10H190.20V157.85H187.60V155.10H184.85V152.50H187.60Z" fill="#55bf9c"/><path d="M259.00,122.35H261.60V125.10H264.35V127.70H261.60V130.45H259.00V127.70H256.25V125.10H259.00Z" fill="#55bf9c"/><path d="M252.90,126.25H255.50V129.00H258.25V131.60H255.50V134.35H252.90V131.60H250.15V129.00H252.90Z" fill="#55bf9c"/><path d="M238.30,144.75H240.90V147.50H243.65V150.10H240.90V152.85H238.30V150.10H235.55V147.50H238.30Z" fill="#55bf9c"/><path d="M293.40,124.05H296.00V126.80H298.75V129.40H296.00V132.15H293.40V129.40H290.65V126.80H293.40Z" fill="#55bf9c"/><path d="M300.70,122.35H303.30V125.10H306.05V127.70H303.30V130.45H300.70V127.70H297.95V125.10H300.70Z" fill="#55bf9c"/><path d="M311.30,123.85H313.90V126.60H316.65V129.20H313.90V131.95H311.30V129.20H308.55V126.60H311.30Z" fill="#55bf9c"/><path d="M316.40,127.35H319.00V130.10H321.75V132.70H319.00V135.45H316.40V132.70H313.65V130.10H316.40Z" fill="#55bf9c"/><path d="M325.30,121.25H327.90V124.00H330.65V126.60H327.90V129.35H325.30V126.60H322.55V124.00H325.30Z" fill="#55bf9c"/><path d="M334.90,122.35H337.50V125.10H340.25V127.70H337.50V130.45H334.90V127.70H332.15V125.10H334.90Z" fill="#55bf9c"/><path d="M336.00,132.95H338.60V135.70H341.35V138.30H338.60V141.05H336.00V138.30H333.25V135.70H336.00Z" fill="#55bf9c"/><path d="M291.70,138.05H294.30V140.80H297.05V143.40H294.30V146.15H291.70V143.40H288.95V140.80H291.70Z" fill="#55bf9c"/><path d="M325.30,137.45H327.90V140.20H330.65V142.80H327.90V145.55H325.30V142.80H322.55V140.20H325.30Z" fill="#55bf9c"/><path d="M333.70,139.75H336.30V142.50H339.05V145.10H336.30V147.85H333.70V145.10H330.95V142.50H333.70Z" fill="#55bf9c"/><path d="M344.90,136.35H347.50V139.10H350.25V141.70H347.50V144.45H344.90V141.70H342.15V139.10H344.90Z" fill="#55bf9c"/><path d="M322.00,147.55H324.60V150.30H327.35V152.90H324.60V155.65H322.00V152.90H319.25V150.30H322.00Z" fill="#55bf9c"/><path d="M334.30,150.35H336.90V153.10H339.65V155.70H336.90V158.45H334.30V155.70H331.55V153.10H334.30Z" fill="#55bf9c"/><path d="M343.80,146.45H346.40V149.20H349.15V151.80H346.40V154.55H343.80V151.80H341.05V149.20H343.80Z" fill="#55bf9c"/><path d="M327.00,152.55H329.60V155.30H332.35V157.90H329.60V160.65H327.00V157.90H324.25V155.30H327.00Z" fill="#55bf9c"/><path d="M355.10,132.15H357.70V134.90H360.45V137.50H357.70V140.25H355.10V137.50H352.35V134.90H355.10Z" fill="#55bf9c"/><path d="M363.00,131.65H365.60V134.40H368.35V137.00H365.60V139.75H363.00V137.00H360.25V134.40H363.00Z" fill="#55bf9c"/><path d="M348.40,142.85H351.00V145.60H353.75V148.20H351.00V150.95H348.40V148.20H345.65V145.60H348.40Z" fill="#55bf9c"/><path d="M364.10,148.95H366.70V151.70H369.45V154.30H366.70V157.05H364.10V154.30H361.35V151.70H364.10Z" fill="#55bf9c"/><path d="M378.70,131.05H381.30V133.80H384.05V136.40H381.30V139.15H378.70V136.40H375.95V133.80H378.70Z" fill="#55bf9c"/><path d="M384.80,130.55H387.40V133.30H390.15V135.90H387.40V138.65H384.80V135.90H382.05V133.30H384.80Z" fill="#55bf9c"/><path d="M383.10,138.35H385.70V141.10H388.45V143.70H385.70V146.45H383.10V143.70H380.35V141.10H383.10Z" fill="#55bf9c"/><path d="M392.70,124.35H395.30V127.10H398.05V129.70H395.30V132.45H392.70V129.70H389.95V127.10H392.70Z" fill="#55bf9c"/><path d="M397.70,148.45H400.30V151.20H403.05V153.80H400.30V156.55H397.70V153.80H394.95V151.20H397.70Z" fill="#55bf9c"/><path d="M409.00,122.65H411.60V125.40H414.35V128.00H411.60V130.75H409.00V128.00H406.25V125.40H409.00Z" fill="#55bf9c"/><path d="M415.70,129.35H418.30V132.10H421.05V134.70H418.30V137.45H415.70V134.70H412.95V132.10H415.70Z" fill="#55bf9c"/><path d="M422.50,137.75H425.10V140.50H427.85V143.10H425.10V145.85H422.50V143.10H419.75V140.50H422.50Z" fill="#55bf9c"/><path d="M432.70,136.95H435.30V139.70H438.05V142.30H435.30V145.05H432.70V142.30H429.95V139.70H432.70Z" fill="#55bf9c"/><path d="M436.20,138.95H438.80V141.70H441.55V144.30H438.80V147.05H436.20V144.30H433.45V141.70H436.20Z" fill="#55bf9c"/><path d="M448.20,143.35H450.80V146.10H453.55V148.70H450.80V151.45H448.20V148.70H445.45V146.10H448.20Z" fill="#55bf9c"/><path d="M402.90,150.65H405.50V153.40H408.25V156.00H405.50V158.75H402.90V156.00H400.15V153.40H402.90Z" fill="#55bf9c"/><path d="M453.20,151.75H455.80V154.50H458.55V157.10H455.80V159.85H453.20V157.10H450.45V154.50H453.20Z" fill="#55bf9c"/><path d="M481.90,122.15H484.50V124.90H487.25V127.50H484.50V130.25H481.90V127.50H479.15V124.90H481.90Z" fill="#55bf9c"/><path d="M478.00,124.95H480.60V127.70H483.35V130.30H480.60V133.05H478.00V130.30H475.25V127.70H478.00Z" fill="#55bf9c"/><path d="M474.70,126.55H477.30V129.30H480.05V131.90H477.30V134.65H474.70V131.90H471.95V129.30H474.70Z" fill="#55bf9c"/><path d="M459.00,126.55H461.60V129.30H464.35V131.90H461.60V134.65H459.00V131.90H456.25V129.30H459.00Z" fill="#55bf9c"/><path d="M461.80,136.65H464.40V139.40H467.15V142.00H464.40V144.75H461.80V142.00H459.05V139.40H461.80Z" fill="#55bf9c"/><path d="M465.70,137.25H468.30V140.00H471.05V142.60H468.30V145.35H465.70V142.60H462.95V140.00H465.70Z" fill="#55bf9c"/><path d="M460.70,142.85H463.30V145.60H466.05V148.20H463.30V150.95H460.70V148.20H457.95V145.60H460.70Z" fill="#55bf9c"/><path d="M477.50,151.25H480.10V154.00H482.85V156.60H480.10V159.35H477.50V156.60H474.75V154.00H477.50Z" fill="#55bf9c"/><path d="M484.70,152.95H487.30V155.70H490.05V158.30H487.30V161.05H484.70V158.30H481.95V155.70H484.70Z" fill="#55bf9c"/><path d="M470.20,153.95H472.80V156.70H475.55V159.30H472.80V162.05H470.20V159.30H467.45V156.70H470.20Z" fill="#55bf9c"/><path d="M109.30,170.15H111.90V172.90H114.65V175.50H111.90V178.25H109.30V175.50H106.55V172.90H109.30Z" fill="#55bf9c"/><path d="M112.10,169.65H114.70V172.40H117.45V175.00H114.70V177.75H112.10V175.00H109.35V172.40H112.10Z" fill="#55bf9c"/><path d="M127.90,162.75H130.50V165.50H133.25V168.10H130.50V170.85H127.90V168.10H125.15V165.50H127.90Z" fill="#55bf9c"/><path d="M140.80,166.05H143.40V168.80H146.15V171.40H143.40V174.15H140.80V171.40H138.05V168.80H140.80Z" fill="#55bf9c"/><path d="M152.00,168.35H154.60V171.10H157.35V173.70H154.60V176.45H152.00V173.70H149.25V171.10H152.00Z" fill="#55bf9c"/><path d="M157.60,172.75H160.20V175.50H162.95V178.10H160.20V180.85H157.60V178.10H154.85V175.50H157.60Z" fill="#55bf9c"/><path d="M169.30,165.55H171.90V168.30H174.65V170.90H171.90V173.65H169.30V170.90H166.55V168.30H169.30Z" fill="#55bf9c"/><path d="M131.80,178.95H134.40V181.70H137.15V184.30H134.40V187.05H131.80V184.30H129.05V181.70H131.80Z" fill="#55bf9c"/><path d="M141.30,176.75H143.90V179.50H146.65V182.10H143.90V184.85H141.30V182.10H138.55V179.50H141.30Z" fill="#55bf9c"/><path d="M148.10,179.55H150.70V182.30H153.45V184.90H150.70V187.65H148.10V184.90H145.35V182.30H148.10Z" fill="#55bf9c"/><path d="M140.20,186.25H142.80V189.00H145.55V191.60H142.80V194.35H140.20V191.60H137.45V189.00H140.20Z" fill="#55bf9c"/><path d="M148.60,186.75H151.20V189.50H153.95V192.10H151.20V194.85H148.60V192.10H145.85V189.50H148.60Z" fill="#55bf9c"/><path d="M175.80,178.15H178.40V180.90H181.15V183.50H178.40V186.25H175.80V183.50H173.05V180.90H175.80Z" fill="#55bf9c"/><path d="M202.30,164.15H204.90V166.90H207.65V169.50H204.90V172.25H202.30V169.50H199.55V166.90H202.30Z" fill="#55bf9c"/><path d="M189.30,191.05H191.90V193.80H194.65V196.40H191.90V199.15H189.30V196.40H186.55V193.80H189.30Z" fill="#55bf9c"/><path d="M215.10,165.15H217.70V167.90H220.45V170.50H217.70V173.25H215.10V170.50H212.35V167.90H215.10Z" fill="#55bf9c"/><path d="M214.10,177.05H216.70V179.80H219.45V182.40H216.70V185.15H214.10V182.40H211.35V179.80H214.10Z" fill="#55bf9c"/><path d="M223.40,182.25H226.00V185.00H228.75V187.60H226.00V190.35H223.40V187.60H220.65V185.00H223.40Z" fill="#55bf9c"/><path d="M234.80,185.35H237.40V188.10H240.15V190.70H237.40V193.45H234.80V190.70H232.05V188.10H234.80Z" fill="#55bf9c"/><path d="M277.30,160.45H279.90V163.20H282.65V165.80H279.90V168.55H277.30V165.80H274.55V163.20H277.30Z" fill="#55bf9c"/><path d="M261.90,177.45H264.50V180.20H267.25V182.80H264.50V185.55H261.90V182.80H259.15V180.20H261.90Z" fill="#55bf9c"/><path d="M240.60,182.55H243.20V185.30H245.95V187.90H243.20V190.65H240.60V187.90H237.85V185.30H240.60Z" fill="#55bf9c"/><path d="M308.50,157.15H311.10V159.90H313.85V162.50H311.10V165.25H308.50V162.50H305.75V159.90H308.50Z" fill="#55bf9c"/><path d="M326.40,155.45H329.00V158.20H331.75V160.80H329.00V163.55H326.40V160.80H323.65V158.20H326.40Z" fill="#55bf9c"/><path d="M335.40,159.95H338.00V162.70H340.75V165.30H338.00V168.05H335.40V165.30H332.65V162.70H335.40Z" fill="#55bf9c"/><path d="M328.70,175.05H331.30V177.80H334.05V180.40H331.30V183.15H328.70V180.40H325.95V177.80H328.70Z" fill="#55bf9c"/><path d="M325.30,180.05H327.90V182.80H330.65V185.40H327.90V188.15H325.30V185.40H322.55V182.80H325.30Z" fill="#55bf9c"/><path d="M308.90,185.55H311.50V188.30H314.25V190.90H311.50V193.65H308.90V190.90H306.15V188.30H308.90Z" fill="#55bf9c"/><path d="M349.90,184.55H352.50V187.30H355.25V189.90H352.50V192.65H349.90V189.90H347.15V187.30H349.90Z" fill="#55bf9c"/><path d="M399.90,151.95H402.50V154.70H405.25V157.30H402.50V160.05H399.90V157.30H397.15V154.70H399.90Z" fill="#55bf9c"/><path d="M365.50,185.65H368.10V188.40H370.85V191.00H368.10V193.75H365.50V191.00H362.75V188.40H365.50Z" fill="#55bf9c"/><path d="M377.80,192.95H380.40V195.70H383.15V198.30H380.40V201.05H377.80V198.30H375.05V195.70H377.80Z" fill="#55bf9c"/><path d="M392.70,175.55H395.30V178.30H398.05V180.90H395.30V183.65H392.70V180.90H389.95V178.30H392.70Z" fill="#55bf9c"/><path d="M407.20,177.25H409.80V180.00H412.55V182.60H409.80V185.35H407.20V182.60H404.45V180.00H407.20Z" fill="#55bf9c"/><path d="M408.90,157.15H411.50V159.90H414.25V162.50H411.50V165.25H408.90V162.50H406.15V159.90H408.90Z" fill="#55bf9c"/><path d="M417.90,166.65H420.50V169.40H423.25V172.00H420.50V174.75H417.90V172.00H415.15V169.40H417.90Z" fill="#55bf9c"/><path d="M442.50,167.15H445.10V169.90H447.85V172.50H445.10V175.25H442.50V172.50H439.75V169.90H442.50Z" fill="#55bf9c"/><path d="M457.70,163.25H460.30V166.00H463.05V168.60H460.30V171.35H457.70V168.60H454.95V166.00H457.70Z" fill="#55bf9c"/><path d="M464.40,166.65H467.00V169.40H469.75V172.00H467.00V174.75H464.40V172.00H461.65V169.40H464.40Z" fill="#55bf9c"/><path d="M458.80,169.45H461.40V172.20H464.15V174.80H461.40V177.55H458.80V174.80H456.05V172.20H458.80Z" fill="#55bf9c"/><path d="M462.70,171.65H465.30V174.40H468.05V177.00H465.30V179.75H462.70V177.00H459.95V174.40H462.70Z" fill="#55bf9c"/><path d="M420.10,177.25H422.70V180.00H425.45V182.60H422.70V185.35H420.10V182.60H417.35V180.00H420.10Z" fill="#55bf9c"/><path d="M425.70,178.95H428.30V181.70H431.05V184.30H428.30V187.05H425.70V184.30H422.95V181.70H425.70Z" fill="#55bf9c"/><path d="M443.10,181.15H445.70V183.90H448.45V186.50H445.70V189.25H443.10V186.50H440.35V183.90H443.10Z" fill="#55bf9c"/><path d="M459.30,179.55H461.90V182.30H464.65V184.90H461.90V187.65H459.30V184.90H456.55V182.30H459.30Z" fill="#55bf9c"/><path d="M482.70,164.35H485.30V167.10H488.05V169.70H485.30V172.45H482.70V169.70H479.95V167.10H482.70Z" fill="#55bf9c"/><path d="M473.80,159.35H476.40V162.10H479.15V164.70H476.40V167.45H473.80V164.70H471.05V162.10H473.80Z" fill="#55bf9c"/><path d="M466.80,172.65H469.40V175.40H472.15V178.00H469.40V180.75H466.80V178.00H464.05V175.40H466.80Z" fill="#55bf9c"/><path d="M137.70,192.95H140.30V195.70H143.05V198.30H140.30V201.05H137.70V198.30H134.95V195.70H137.70Z" fill="#55bf9c"/><path d="M150.60,192.95H153.20V195.70H155.95V198.30H153.20V201.05H150.60V198.30H147.85V195.70H150.60Z" fill="#55bf9c"/><path d="M145.00,201.95H147.60V204.70H150.35V207.30H147.60V210.05H145.00V207.30H142.25V204.70H145.00Z" fill="#55bf9c"/><path d="M156.20,206.95H158.80V209.70H161.55V212.30H158.80V215.05H156.20V212.30H153.45V209.70H156.20Z" fill="#55bf9c"/><path d="M155.60,215.95H158.20V218.70H160.95V221.30H158.20V224.05H155.60V221.30H152.85V218.70H155.60Z" fill="#55bf9c"/><path d="M224.10,196.55H226.70V199.30H229.45V201.90H226.70V204.65H224.10V201.90H221.35V199.30H224.10Z" fill="#55bf9c"/><path d="M279.10,199.95H281.70V202.70H284.45V205.30H281.70V208.05H279.10V205.30H276.35V202.70H279.10Z" fill="#55bf9c"/><path d="M252.60,225.95H255.20V228.70H257.95V231.30H255.20V234.05H252.60V231.30H249.85V228.70H252.60Z" fill="#55bf9c"/><path d="M296.50,196.25H299.10V199.00H301.85V201.60H299.10V204.35H296.50V201.60H293.75V199.00H296.50Z" fill="#55bf9c"/><path d="M298.70,221.45H301.30V224.20H304.05V226.80H301.30V229.55H298.70V226.80H295.95V224.20H298.70Z" fill="#55bf9c"/><path d="M293.20,225.95H295.80V228.70H298.55V231.30H295.80V234.05H293.20V231.30H290.45V228.70H293.20Z" fill="#55bf9c"/><path d="M332.80,195.75H335.40V198.50H338.15V201.10H335.40V203.85H332.80V201.10H330.05V198.50H332.80Z" fill="#55bf9c"/><path d="M329.40,200.75H332.00V203.50H334.75V206.10H332.00V208.85H329.40V206.10H326.65V203.50H329.40Z" fill="#55bf9c"/><path d="M316.80,210.85H319.40V213.60H322.15V216.20H319.40V218.95H316.80V216.20H314.05V213.60H316.80Z" fill="#55bf9c"/><path d="M333.50,215.25H336.10V218.00H338.85V220.60H336.10V223.35H333.50V220.60H330.75V218.00H333.50Z" fill="#55bf9c"/><path d="M378.90,194.35H381.50V197.10H384.25V199.70H381.50V202.45H378.90V199.70H376.15V197.10H378.90Z" fill="#55bf9c"/><path d="M343.70,201.05H346.30V203.80H349.05V206.40H346.30V209.15H343.70V206.40H340.95V203.80H343.70Z" fill="#55bf9c"/><path d="M358.80,199.95H361.40V202.70H364.15V205.30H361.40V208.05H358.80V205.30H356.05V202.70H358.80Z" fill="#55bf9c"/><path d="M350.90,205.55H353.50V208.30H356.25V210.90H353.50V213.65H350.90V210.90H348.15V208.30H350.90Z" fill="#55bf9c"/><path d="M347.60,215.55H350.20V218.30H352.95V220.90H350.20V223.65H347.60V220.90H344.85V218.30H347.60Z" fill="#55bf9c"/><path d="M361.00,214.45H363.60V217.20H366.35V219.80H363.60V222.55H361.00V219.80H358.25V217.20H361.00Z" fill="#55bf9c"/><path d="M359.30,222.85H361.90V225.60H364.65V228.20H361.90V230.95H359.30V228.20H356.55V225.60H359.30Z" fill="#55bf9c"/><path d="M365.50,223.45H368.10V226.20H370.85V228.80H368.10V231.55H365.50V228.80H362.75V226.20H365.50Z" fill="#55bf9c"/><path d="M375.00,223.45H377.60V226.20H380.35V228.80H377.60V231.55H375.00V228.80H372.25V226.20H375.00Z" fill="#55bf9c"/><path d="M386.20,216.75H388.80V219.50H391.55V222.10H388.80V224.85H386.20V222.10H383.45V219.50H386.20Z" fill="#55bf9c"/><path d="M339.20,226.75H341.80V229.50H344.55V232.10H341.80V234.85H339.20V232.10H336.45V229.50H339.20Z" fill="#55bf9c"/><path d="M419.50,192.15H422.10V194.90H424.85V197.50H422.10V200.25H419.50V197.50H416.75V194.90H419.50Z" fill="#55bf9c"/><path d="M437.40,192.65H440.00V195.40H442.75V198.00H440.00V200.75H437.40V198.00H434.65V195.40H437.40Z" fill="#55bf9c"/><path d="M434.60,196.05H437.20V198.80H439.95V201.40H437.20V204.15H434.60V201.40H431.85V198.80H434.60Z" fill="#55bf9c"/><path d="M447.50,198.25H450.10V201.00H452.85V203.60H450.10V206.35H447.50V203.60H444.75V201.00H447.50Z" fill="#55bf9c"/><path d="M197.70,236.25H200.30V239.00H203.05V241.60H200.30V244.35H197.70V241.60H194.95V239.00H197.70Z" fill="#55bf9c"/><path d="M261.60,235.35H264.20V238.10H266.95V240.70H264.20V243.45H261.60V240.70H258.85V238.10H261.60Z" fill="#55bf9c"/><path d="M332.00,235.75H334.60V238.50H337.35V241.10H334.60V243.85H332.00V241.10H329.25V238.50H332.00Z" fill="#55bf9c"/><path d="M339.90,243.05H342.50V245.80H345.25V248.40H342.50V251.15H339.90V248.40H337.15V245.80H339.90Z" fill="#55bf9c"/><path d="M345.80,246.05H348.40V248.80H351.15V251.40H348.40V254.15H345.80V251.40H343.05V248.80H345.80Z" fill="#55bf9c"/><path d="M366.80,234.75H369.40V237.50H372.15V240.10H369.40V242.85H366.80V240.10H364.05V237.50H366.80Z" fill="#55bf9c"/><path d="M370.80,238.65H373.40V241.40H376.15V244.00H373.40V246.75H370.80V244.00H368.05V241.40H370.80Z" fill="#55bf9c"/><path d="M370.80,247.95H373.40V250.70H376.15V253.30H373.40V256.05H370.80V253.30H368.05V250.70H370.80Z" fill="#55bf9c"/><path d="M261.00,261.05H263.60V263.80H266.35V266.40H263.60V269.15H261.00V266.40H258.25V263.80H261.00Z" fill="#55bf9c"/><path d="M375.10,254.35H377.70V257.10H380.45V259.70H377.70V262.45H375.10V259.70H372.35V257.10H375.10Z" fill="#55bf9c"/><path d="M391.90,254.35H394.50V257.10H397.25V259.70H394.50V262.45H391.90V259.70H389.15V257.10H391.90Z" fill="#55bf9c"/><path d="M291.10,241.45H293.70V244.20H296.45V246.80H293.70V249.55H291.10V246.80H288.35V244.20H291.10Z" fill="#55bf9c"/></g><g stroke="#111" stroke-width="1.55" fill="none"><line x1="75.3" y1="163.1" x2="520.5" y2="163.1" stroke-dasharray="3.7 2.46"/><line x1="297.6" y1="22.4" x2="297.6" y2="302.5" stroke-dasharray="3.7 2.5"/></g><path d="M69.4,163.1L73.0,160.79999999999998L73.0,165.4Z" fill="#111"/><path d="M525.4,163.1L521.8,160.79999999999998L521.8,165.4Z" fill="#111"/><path d="M297.6,16.6L295.3,20.6L299.90000000000003,20.6Z" fill="#111"/><path d="M297.6,309.2L295.3,305.2L299.90000000000003,305.2Z" fill="#111"/><rect x="63.5" y="11.0" width="468.3" height="304.0" fill="none" stroke="#111" stroke-width="1.65"/><path d="M63.5,312.7V317.5M63.5,8.5V13.3M61.2,315.0H66.0M529.3,315.0H534.1M141.6,312.7V317.5M141.6,8.5V13.3M61.2,264.3H66.0M529.3,264.3H534.1M219.6,312.7V317.5M219.6,8.5V13.3M61.2,213.7H66.0M529.3,213.7H534.1M297.6,312.7V317.5M297.6,8.5V13.3M61.2,163.0H66.0M529.3,163.0H534.1M375.7,312.7V317.5M375.7,8.5V13.3M61.2,112.3H66.0M529.3,112.3H534.1M453.8,312.7V317.5M453.8,8.5V13.3M61.2,61.7H66.0M529.3,61.7H534.1M531.8,312.7V317.5M531.8,8.5V13.3M61.2,11.0H66.0M529.3,11.0H534.1" stroke="#111" stroke-width="1.1" fill="none"/><g font-size="14.4" fill="#111" stroke="#111" stroke-width="0.15"><text x="63.5" y="333.4" text-anchor="middle" textLength="29.6" lengthAdjust="spacingAndGlyphs">1.00</text><text x="55.4" y="321.0" text-anchor="end" font-size="15.3" textLength="29.6" lengthAdjust="spacingAndGlyphs">1.00</text><text x="141.6" y="333.4" text-anchor="middle" textLength="29.6" lengthAdjust="spacingAndGlyphs">2.00</text><text x="55.4" y="270.3" text-anchor="end" font-size="15.3" textLength="29.6" lengthAdjust="spacingAndGlyphs">2.00</text><text x="219.6" y="333.4" text-anchor="middle" textLength="29.6" lengthAdjust="spacingAndGlyphs">3.00</text><text x="55.4" y="219.7" text-anchor="end" font-size="15.3" textLength="29.6" lengthAdjust="spacingAndGlyphs">3.00</text><text x="297.6" y="333.4" text-anchor="middle" textLength="29.6" lengthAdjust="spacingAndGlyphs">4.00</text><text x="55.4" y="169.0" text-anchor="end" font-size="15.3" textLength="29.6" lengthAdjust="spacingAndGlyphs">4.00</text><text x="375.7" y="333.4" text-anchor="middle" textLength="29.6" lengthAdjust="spacingAndGlyphs">5.00</text><text x="55.4" y="118.3" text-anchor="end" font-size="15.3" textLength="29.6" lengthAdjust="spacingAndGlyphs">5.00</text><text x="453.8" y="333.4" text-anchor="middle" textLength="29.6" lengthAdjust="spacingAndGlyphs">6.00</text><text x="55.4" y="67.7" text-anchor="end" font-size="15.3" textLength="29.6" lengthAdjust="spacingAndGlyphs">6.00</text><text x="531.8" y="333.4" text-anchor="middle" textLength="29.6" lengthAdjust="spacingAndGlyphs">7.00</text><text x="55.4" y="17.0" text-anchor="end" font-size="15.3" textLength="29.6" lengthAdjust="spacingAndGlyphs">7.00</text></g><text x="297.7" y="352.3" text-anchor="middle" font-size="14.4" fill="#111" stroke="#111" stroke-width="0.15" textLength="53.4" lengthAdjust="spacingAndGlyphs">Valence</text><text transform="translate(16.8,163.0) rotate(-90)" x="0" y="0" text-anchor="middle" font-size="14.4" fill="#111" stroke="#111" stroke-width="0.15" textLength="50.5" lengthAdjust="spacingAndGlyphs">Arousal</text><g font-size="12" font-weight="bold" fill="#111" text-anchor="middle"><text x="121.2" y="27.0" textLength="90.5" lengthAdjust="spacingAndGlyphs">High arousal, low</text><text x="120.7" y="42.5" textLength="78.3" lengthAdjust="spacingAndGlyphs">valence (HALV)</text><text x="471.1" y="27.3" textLength="93.5" lengthAdjust="spacingAndGlyphs">High arousal, high</text><text x="471.3" y="43.0" textLength="81.2" lengthAdjust="spacingAndGlyphs">valence (HAHV)</text><text x="224.1" y="293.5" textLength="88.2" lengthAdjust="spacingAndGlyphs">Low arousal, low</text><text x="223.5" y="309.0" textLength="76.4" lengthAdjust="spacingAndGlyphs">valence (LALV)</text><text x="471.1" y="293.5" textLength="92.5" lengthAdjust="spacingAndGlyphs">Low arousal, high</text><text x="471.0" y="309.0" textLength="80.5" lengthAdjust="spacingAndGlyphs">valence (LAHV)</text><text x="207.5" y="72.4" textLength="31.0" lengthAdjust="spacingAndGlyphs">Angry</text><text x="157.7" y="98.0" textLength="28.2" lengthAdjust="spacingAndGlyphs">Scary</text><text x="360.9" y="74.8" textLength="38.1" lengthAdjust="spacingAndGlyphs">Excited</text><text x="441.1" y="116.0" textLength="34.8" lengthAdjust="spacingAndGlyphs">Happy</text><text x="194.0" y="228.0" textLength="18.8" lengthAdjust="spacingAndGlyphs">Sad</text><text x="237.5" y="257.4" textLength="26.6" lengthAdjust="spacingAndGlyphs">Tired</text><text x="440.9" y="241.3" textLength="40.8" lengthAdjust="spacingAndGlyphs">Relaxed</text><text x="367.4" y="272.1" textLength="26.5" lengthAdjust="spacingAndGlyphs">Calm</text></g><rect x="70.7" y="200.9" width="98.7" height="107.2" rx="2.8" fill="#fff" fill-opacity="0.8" stroke="#cccccc" stroke-width="1"/><g font-size="14.2" fill="#111" stroke="#111" stroke-width="0.15"><text x="119.7" y="217.3" text-anchor="middle" textLength="62.5" lengthAdjust="spacingAndGlyphs">Category</text><text x="115.8" y="238.2" textLength="44.8" lengthAdjust="spacingAndGlyphs">Object</text><text x="115.8" y="258.6" textLength="46.1" lengthAdjust="spacingAndGlyphs">Person</text><text x="115.8" y="279.0" textLength="47.1" lengthAdjust="spacingAndGlyphs">Animal</text><text x="115.8" y="299.4" textLength="42.0" lengthAdjust="spacingAndGlyphs">Scene</text></g><g stroke="#fff" stroke-width="0.8"><circle cx="89.6" cy="234.0" r="4.9" fill="#f4653a"/><path d="M91.72,249.17L94.83,252.28L92.71,254.40L94.83,256.52L91.72,259.63L89.60,257.51L87.48,259.63L84.37,256.52L86.49,254.40L84.37,252.28L87.48,249.17L89.60,251.29Z" fill="#fdd47a"/><rect x="85.69999999999999" y="270.90000000000003" width="7.8" height="7.8" fill="#e0f08e"/><path d="M87.40,290.00L91.80,290.00L91.80,293.00L94.80,293.00L94.80,297.40L91.80,297.40L91.80,300.40L87.40,300.40L87.40,297.40L84.40,297.40L84.40,293.00L87.40,293.00Z" fill="#55bf9c"/></g></svg></body></html>
